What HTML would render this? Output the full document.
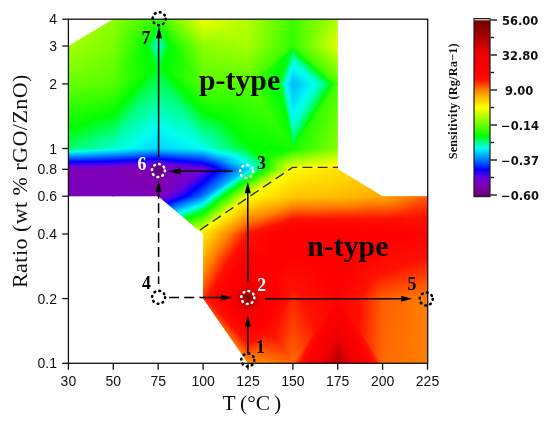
<!DOCTYPE html>
<html lang="en">
<head>
<meta charset="utf-8">
<title>Sensitivity contour map</title>
<style>
html,body{margin:0;padding:0;background:#fff;}
body{width:550px;height:423px;overflow:hidden;}
svg{display:block;}
.tick{font-family:"Liberation Sans",sans-serif;font-size:14px;fill:#111;}
.ser{font-family:"Liberation Serif","Noto Serif CJK SC",serif;fill:#111;}
.big{font-family:"Liberation Serif",serif;font-weight:bold;font-size:29.8px;fill:#0a0a0a;}
.num{font-family:"Liberation Serif",serif;font-weight:bold;font-size:17.8px;}
.cbl{font-family:"DejaVu Sans","Liberation Sans",sans-serif;font-weight:bold;font-size:11.5px;fill:#111;}
.cbt{font-family:"Liberation Serif",serif;font-weight:bold;font-size:12.3px;fill:#111;}
</style>
</head>
<body>
<svg width="550" height="423" viewBox="0 0 550 423">
<defs>
<clipPath id="clip"><polygon points="68.4,46.0 113.3,19.2 337.7,19.2 337.7,169.3 382.6,196.2 427.5,196.2 427.5,363.3 248.0,363.3 203.1,298.6 203.1,234.0 158.2,196.2 68.4,196.2"/></clipPath>
<radialGradient id="spot2"><stop offset="0" stop-color="#780000" stop-opacity="1"/><stop offset="0.35" stop-color="#a00000" stop-opacity="0.85"/><stop offset="1" stop-color="#f00000" stop-opacity="0"/></radialGradient>
<radialGradient id="spot6"><stop offset="0" stop-color="#5c0070" stop-opacity="1"/><stop offset="0.5" stop-color="#680088" stop-opacity="0.7"/><stop offset="1" stop-color="#8000b0" stop-opacity="0"/></radialGradient>
<linearGradient id="cbg" x1="0" y1="0" x2="0" y2="1"><stop offset="0.0079" stop-color="#700000"/><stop offset="0.1062" stop-color="#b00000"/><stop offset="0.2045" stop-color="#f00000"/><stop offset="0.3028" stop-color="#ff0000"/><stop offset="0.3449" stop-color="#ff1000"/><stop offset="0.4011" stop-color="#ff8000"/><stop offset="0.4461" stop-color="#ffc000"/><stop offset="0.4994" stop-color="#ffff00"/><stop offset="0.5978" stop-color="#68ff00"/><stop offset="0.6596" stop-color="#00ff00"/><stop offset="0.6933" stop-color="#00ff80"/><stop offset="0.7270" stop-color="#00fff0"/><stop offset="0.7382" stop-color="#00e8f8"/><stop offset="0.7944" stop-color="#0078ff"/><stop offset="0.8478" stop-color="#0000ff"/><stop offset="0.8927" stop-color="#6800e0"/><stop offset="0.9404" stop-color="#8000b0"/><stop offset="0.9910" stop-color="#6a0078"/></linearGradient>
<linearGradient id="g0" gradientUnits="userSpaceOnUse" x1="307.6" y1="67.4" x2="281.1" y2="97.0"><stop offset="0.000" stop-color="#00f9f2"/><stop offset="0.167" stop-color="#00e8f8"/><stop offset="1.000" stop-color="#0094fd"/></linearGradient>
<linearGradient id="g1" gradientUnits="userSpaceOnUse" x1="307.1" y1="62.0" x2="287.4" y2="84.0"><stop offset="0.000" stop-color="#00ff80"/><stop offset="0.414" stop-color="#00fff0"/><stop offset="0.552" stop-color="#00e8f8"/><stop offset="1.000" stop-color="#009ffd"/></linearGradient>
<linearGradient id="g2" gradientUnits="userSpaceOnUse" x1="307.1" y1="62.0" x2="287.4" y2="84.0"><stop offset="0.000" stop-color="#00ff80"/><stop offset="0.414" stop-color="#00fff0"/><stop offset="0.552" stop-color="#00e8f8"/><stop offset="1.000" stop-color="#009ffd"/></linearGradient>
<linearGradient id="g3" gradientUnits="userSpaceOnUse" x1="299.7" y1="52.5" x2="290.6" y2="62.7"><stop offset="0.000" stop-color="#13ff00"/><stop offset="0.125" stop-color="#00ff00"/><stop offset="0.500" stop-color="#00ff80"/><stop offset="0.875" stop-color="#00fff0"/><stop offset="1.000" stop-color="#00e8f8"/></linearGradient>
<linearGradient id="g4" gradientUnits="userSpaceOnUse" x1="299.7" y1="52.5" x2="290.6" y2="62.7"><stop offset="0.000" stop-color="#13ff00"/><stop offset="0.125" stop-color="#00ff00"/><stop offset="0.500" stop-color="#00ff80"/><stop offset="0.875" stop-color="#00fff0"/><stop offset="1.000" stop-color="#00e8f8"/></linearGradient>
<linearGradient id="g5" gradientUnits="userSpaceOnUse" x1="296.7" y1="46.7" x2="291.5" y2="52.5"><stop offset="0.000" stop-color="#55ff00"/><stop offset="0.600" stop-color="#00ff00"/><stop offset="1.000" stop-color="#00ff80"/></linearGradient>
<linearGradient id="g6" gradientUnits="userSpaceOnUse" x1="295.4" y1="43.2" x2="288.9" y2="50.4"><stop offset="0.000" stop-color="#71ff00"/><stop offset="0.056" stop-color="#68ff00"/><stop offset="0.667" stop-color="#00ff00"/><stop offset="1.000" stop-color="#00ff80"/></linearGradient>
<linearGradient id="g7" gradientUnits="userSpaceOnUse" x1="319.5" y1="19.1" x2="288.4" y2="50.5"><stop offset="0.000" stop-color="#fffc00"/><stop offset="0.018" stop-color="#ffff00"/><stop offset="0.643" stop-color="#68ff00"/><stop offset="1.000" stop-color="#09ff00"/></linearGradient>
<linearGradient id="g8" gradientUnits="userSpaceOnUse" x1="316.9" y1="98.6" x2="273.6" y2="72.1"><stop offset="0.000" stop-color="#00f9f2"/><stop offset="0.167" stop-color="#00e8f8"/><stop offset="1.000" stop-color="#0094fd"/></linearGradient>
<linearGradient id="g9" gradientUnits="userSpaceOnUse" x1="322.8" y1="98.2" x2="290.6" y2="78.4"><stop offset="0.000" stop-color="#00ff80"/><stop offset="0.414" stop-color="#00fff0"/><stop offset="0.552" stop-color="#00e8f8"/><stop offset="1.000" stop-color="#009ffd"/></linearGradient>
<linearGradient id="g10" gradientUnits="userSpaceOnUse" x1="322.8" y1="98.2" x2="290.6" y2="78.4"><stop offset="0.000" stop-color="#00ff80"/><stop offset="0.414" stop-color="#00fff0"/><stop offset="0.552" stop-color="#00e8f8"/><stop offset="1.000" stop-color="#009ffd"/></linearGradient>
<linearGradient id="g11" gradientUnits="userSpaceOnUse" x1="330.6" y1="90.7" x2="315.6" y2="81.6"><stop offset="0.000" stop-color="#13ff00"/><stop offset="0.125" stop-color="#00ff00"/><stop offset="0.500" stop-color="#00ff80"/><stop offset="0.875" stop-color="#00fff0"/><stop offset="1.000" stop-color="#00e8f8"/></linearGradient>
<linearGradient id="g12" gradientUnits="userSpaceOnUse" x1="330.6" y1="90.7" x2="315.6" y2="81.6"><stop offset="0.000" stop-color="#13ff00"/><stop offset="0.125" stop-color="#00ff00"/><stop offset="0.500" stop-color="#00ff80"/><stop offset="0.875" stop-color="#00fff0"/><stop offset="1.000" stop-color="#00e8f8"/></linearGradient>
<linearGradient id="g13" gradientUnits="userSpaceOnUse" x1="337.9" y1="88.9" x2="327.3" y2="82.4"><stop offset="0.000" stop-color="#71ff00"/><stop offset="0.056" stop-color="#68ff00"/><stop offset="0.667" stop-color="#00ff00"/><stop offset="1.000" stop-color="#00ff80"/></linearGradient>
<linearGradient id="g14" gradientUnits="userSpaceOnUse" x1="339.8" y1="85.1" x2="330.6" y2="79.4"><stop offset="0.000" stop-color="#71ff00"/><stop offset="0.056" stop-color="#68ff00"/><stop offset="0.667" stop-color="#00ff00"/><stop offset="1.000" stop-color="#00ff80"/></linearGradient>
<linearGradient id="g15" gradientUnits="userSpaceOnUse" x1="371.1" y1="95.4" x2="304.4" y2="72.3"><stop offset="0.000" stop-color="#a4ff00"/><stop offset="0.350" stop-color="#68ff00"/><stop offset="0.900" stop-color="#00ff00"/><stop offset="1.000" stop-color="#00ff2b"/></linearGradient>
<linearGradient id="g16" gradientUnits="userSpaceOnUse" x1="282.4" y1="86.0" x2="301.2" y2="82.2"><stop offset="0.000" stop-color="#00f9f2"/><stop offset="0.167" stop-color="#00e8f8"/><stop offset="1.000" stop-color="#0094fd"/></linearGradient>
<linearGradient id="g17" gradientUnits="userSpaceOnUse" x1="282.7" y1="96.7" x2="296.7" y2="93.9"><stop offset="0.000" stop-color="#00ff80"/><stop offset="0.414" stop-color="#00fff0"/><stop offset="0.552" stop-color="#00e8f8"/><stop offset="1.000" stop-color="#009ffd"/></linearGradient>
<linearGradient id="g18" gradientUnits="userSpaceOnUse" x1="282.7" y1="96.7" x2="296.7" y2="93.9"><stop offset="0.000" stop-color="#00ff80"/><stop offset="0.414" stop-color="#00fff0"/><stop offset="0.552" stop-color="#00e8f8"/><stop offset="1.000" stop-color="#009ffd"/></linearGradient>
<linearGradient id="g19" gradientUnits="userSpaceOnUse" x1="288.0" y1="128.1" x2="294.5" y2="126.8"><stop offset="0.000" stop-color="#13ff00"/><stop offset="0.125" stop-color="#00ff00"/><stop offset="0.500" stop-color="#00ff80"/><stop offset="0.875" stop-color="#00fff0"/><stop offset="1.000" stop-color="#00e8f8"/></linearGradient>
<linearGradient id="g20" gradientUnits="userSpaceOnUse" x1="288.0" y1="128.1" x2="294.5" y2="126.8"><stop offset="0.000" stop-color="#13ff00"/><stop offset="0.125" stop-color="#00ff00"/><stop offset="0.500" stop-color="#00ff80"/><stop offset="0.875" stop-color="#00fff0"/><stop offset="1.000" stop-color="#00e8f8"/></linearGradient>
<linearGradient id="g21" gradientUnits="userSpaceOnUse" x1="291.1" y1="144.3" x2="293.7" y2="143.8"><stop offset="0.000" stop-color="#39ff00"/><stop offset="0.500" stop-color="#00ff00"/><stop offset="1.000" stop-color="#00ff80"/></linearGradient>
<linearGradient id="g22" gradientUnits="userSpaceOnUse" x1="264.1" y1="159.2" x2="313.8" y2="140.7"><stop offset="0.000" stop-color="#79ff00"/><stop offset="0.105" stop-color="#68ff00"/><stop offset="0.684" stop-color="#00ff00"/><stop offset="1.000" stop-color="#00ff80"/></linearGradient>
<linearGradient id="g23" gradientUnits="userSpaceOnUse" x1="318.7" y1="88.6" x2="276.4" y2="186.7"><stop offset="0.000" stop-color="#79ff00"/><stop offset="0.111" stop-color="#68ff00"/><stop offset="0.722" stop-color="#00ff00"/><stop offset="1.000" stop-color="#00ff6b"/></linearGradient>
<linearGradient id="g24" gradientUnits="userSpaceOnUse" x1="283.2" y1="80.3" x2="300.5" y2="86.7"><stop offset="0.000" stop-color="#00f9f2"/><stop offset="0.167" stop-color="#00e8f8"/><stop offset="1.000" stop-color="#0094fd"/></linearGradient>
<linearGradient id="g25" gradientUnits="userSpaceOnUse" x1="281.4" y1="80.4" x2="294.2" y2="85.2"><stop offset="0.000" stop-color="#00ff80"/><stop offset="0.414" stop-color="#00fff0"/><stop offset="0.552" stop-color="#00e8f8"/><stop offset="1.000" stop-color="#009ffd"/></linearGradient>
<linearGradient id="g26" gradientUnits="userSpaceOnUse" x1="281.4" y1="80.4" x2="294.2" y2="85.2"><stop offset="0.000" stop-color="#00ff80"/><stop offset="0.414" stop-color="#00fff0"/><stop offset="0.552" stop-color="#00e8f8"/><stop offset="1.000" stop-color="#009ffd"/></linearGradient>
<linearGradient id="g27" gradientUnits="userSpaceOnUse" x1="279.6" y1="82.2" x2="285.6" y2="84.4"><stop offset="0.000" stop-color="#13ff00"/><stop offset="0.125" stop-color="#00ff00"/><stop offset="0.500" stop-color="#00ff80"/><stop offset="0.875" stop-color="#00fff0"/><stop offset="1.000" stop-color="#00e8f8"/></linearGradient>
<linearGradient id="g28" gradientUnits="userSpaceOnUse" x1="279.6" y1="82.2" x2="285.6" y2="84.4"><stop offset="0.000" stop-color="#13ff00"/><stop offset="0.125" stop-color="#00ff00"/><stop offset="0.500" stop-color="#00ff80"/><stop offset="0.875" stop-color="#00fff0"/><stop offset="1.000" stop-color="#00e8f8"/></linearGradient>
<linearGradient id="g29" gradientUnits="userSpaceOnUse" x1="241.4" y1="69.4" x2="291.2" y2="87.7"><stop offset="0.000" stop-color="#79ff00"/><stop offset="0.105" stop-color="#68ff00"/><stop offset="0.684" stop-color="#00ff00"/><stop offset="1.000" stop-color="#00ff80"/></linearGradient>
<linearGradient id="g30" gradientUnits="userSpaceOnUse" x1="246.6" y1="82.3" x2="253.2" y2="89.6"><stop offset="0.000" stop-color="#79ff00"/><stop offset="0.105" stop-color="#68ff00"/><stop offset="0.684" stop-color="#00ff00"/><stop offset="1.000" stop-color="#00ff80"/></linearGradient>
<linearGradient id="g31" gradientUnits="userSpaceOnUse" x1="221.2" y1="61.8" x2="264.5" y2="97.4"><stop offset="0.000" stop-color="#c7ff00"/><stop offset="0.524" stop-color="#68ff00"/><stop offset="1.000" stop-color="#09ff00"/></linearGradient>
<linearGradient id="g32" gradientUnits="userSpaceOnUse" x1="80.7" y1="103.9" x2="139.4" y2="184.2"><stop offset="0.000" stop-color="#18ff00"/><stop offset="0.111" stop-color="#00ff00"/><stop offset="0.378" stop-color="#00ff80"/><stop offset="0.644" stop-color="#00fff0"/><stop offset="0.733" stop-color="#00e8f8"/><stop offset="1.000" stop-color="#00a5fc"/></linearGradient>
<linearGradient id="g33" gradientUnits="userSpaceOnUse" x1="198.1" y1="66.7" x2="149.5" y2="166.2"><stop offset="0.000" stop-color="#18ff00"/><stop offset="0.111" stop-color="#00ff00"/><stop offset="0.378" stop-color="#00ff80"/><stop offset="0.644" stop-color="#00fff0"/><stop offset="0.733" stop-color="#00e8f8"/><stop offset="1.000" stop-color="#00a5fc"/></linearGradient>
<linearGradient id="g34" gradientUnits="userSpaceOnUse" x1="74.4" y1="114.0" x2="120.0" y2="154.5"><stop offset="0.000" stop-color="#79ff00"/><stop offset="0.074" stop-color="#68ff00"/><stop offset="0.481" stop-color="#00ff00"/><stop offset="0.704" stop-color="#00ff80"/><stop offset="0.926" stop-color="#00fff0"/><stop offset="1.000" stop-color="#00e8f8"/></linearGradient>
<linearGradient id="g35" gradientUnits="userSpaceOnUse" x1="241.5" y1="111.9" x2="196.9" y2="154.4"><stop offset="0.000" stop-color="#79ff00"/><stop offset="0.069" stop-color="#68ff00"/><stop offset="0.448" stop-color="#00ff00"/><stop offset="0.655" stop-color="#00ff80"/><stop offset="0.862" stop-color="#00fff0"/><stop offset="0.931" stop-color="#00e8f8"/><stop offset="1.000" stop-color="#00d2f9"/></linearGradient>
<linearGradient id="g36" gradientUnits="userSpaceOnUse" x1="95.8" y1="87.5" x2="176.8" y2="70.6"><stop offset="0.000" stop-color="#79ff00"/><stop offset="0.108" stop-color="#68ff00"/><stop offset="0.703" stop-color="#00ff00"/><stop offset="1.000" stop-color="#00ff75"/></linearGradient>
<linearGradient id="g37" gradientUnits="userSpaceOnUse" x1="94.2" y1="78.7" x2="144.2" y2="92.2"><stop offset="0.000" stop-color="#9cff00"/><stop offset="0.286" stop-color="#68ff00"/><stop offset="0.810" stop-color="#00ff00"/><stop offset="1.000" stop-color="#00ff55"/></linearGradient>
<linearGradient id="g38" gradientUnits="userSpaceOnUse" x1="153.3" y1="71.2" x2="170.2" y2="63.9"><stop offset="0.000" stop-color="#26ff00"/><stop offset="0.211" stop-color="#00ff00"/><stop offset="0.526" stop-color="#00ff80"/><stop offset="0.842" stop-color="#00fff0"/><stop offset="0.947" stop-color="#00e8f8"/><stop offset="1.000" stop-color="#00ddf9"/></linearGradient>
<linearGradient id="g39" gradientUnits="userSpaceOnUse" x1="163.1" y1="71.2" x2="146.2" y2="63.9"><stop offset="0.000" stop-color="#26ff00"/><stop offset="0.211" stop-color="#00ff00"/><stop offset="0.526" stop-color="#00ff80"/><stop offset="0.842" stop-color="#00fff0"/><stop offset="0.947" stop-color="#00e8f8"/><stop offset="1.000" stop-color="#00ddf9"/></linearGradient>
<linearGradient id="g40" gradientUnits="userSpaceOnUse" x1="220.6" y1="87.5" x2="139.6" y2="70.6"><stop offset="0.000" stop-color="#79ff00"/><stop offset="0.108" stop-color="#68ff00"/><stop offset="0.703" stop-color="#00ff00"/><stop offset="1.000" stop-color="#00ff75"/></linearGradient>
<linearGradient id="g41" gradientUnits="userSpaceOnUse" x1="222.8" y1="76.9" x2="177.4" y2="92.9"><stop offset="0.000" stop-color="#adff00"/><stop offset="0.348" stop-color="#68ff00"/><stop offset="0.826" stop-color="#00ff00"/><stop offset="1.000" stop-color="#00ff55"/></linearGradient>
<linearGradient id="g42" gradientUnits="userSpaceOnUse" x1="145.4" y1="39.7" x2="161.6" y2="47.7"><stop offset="0.000" stop-color="#26ff00"/><stop offset="0.211" stop-color="#00ff00"/><stop offset="0.526" stop-color="#00ff80"/><stop offset="0.842" stop-color="#00fff0"/><stop offset="0.947" stop-color="#00e8f8"/><stop offset="1.000" stop-color="#00ddf9"/></linearGradient>
<linearGradient id="g43" gradientUnits="userSpaceOnUse" x1="143.2" y1="44.3" x2="148.3" y2="47.0"><stop offset="0.000" stop-color="#55ff00"/><stop offset="0.643" stop-color="#00ff00"/><stop offset="1.000" stop-color="#00ff6b"/></linearGradient>
<linearGradient id="g44" gradientUnits="userSpaceOnUse" x1="112.9" y1="5.9" x2="153.2" y2="54.1"><stop offset="0.000" stop-color="#b6ff00"/><stop offset="0.375" stop-color="#68ff00"/><stop offset="0.833" stop-color="#00ff00"/><stop offset="1.000" stop-color="#00ff55"/></linearGradient>
<linearGradient id="g45" gradientUnits="userSpaceOnUse" x1="99.3" y1="32.5" x2="156.0" y2="48.7"><stop offset="0.000" stop-color="#b6ff00"/><stop offset="0.375" stop-color="#68ff00"/><stop offset="0.833" stop-color="#00ff00"/><stop offset="1.000" stop-color="#00ff55"/></linearGradient>
<linearGradient id="g46" gradientUnits="userSpaceOnUse" x1="171.0" y1="39.7" x2="154.8" y2="47.7"><stop offset="0.000" stop-color="#26ff00"/><stop offset="0.211" stop-color="#00ff00"/><stop offset="0.526" stop-color="#00ff80"/><stop offset="0.842" stop-color="#00fff0"/><stop offset="0.947" stop-color="#00e8f8"/><stop offset="1.000" stop-color="#00ddf9"/></linearGradient>
<linearGradient id="g47" gradientUnits="userSpaceOnUse" x1="173.2" y1="44.3" x2="168.0" y2="47.0"><stop offset="0.000" stop-color="#55ff00"/><stop offset="0.643" stop-color="#00ff00"/><stop offset="1.000" stop-color="#00ff6b"/></linearGradient>
<linearGradient id="g48" gradientUnits="userSpaceOnUse" x1="207.9" y1="15.1" x2="164.9" y2="50.0"><stop offset="0.000" stop-color="#ffee00"/><stop offset="0.071" stop-color="#ffff00"/><stop offset="0.571" stop-color="#68ff00"/><stop offset="0.886" stop-color="#00ff00"/><stop offset="1.000" stop-color="#00ff55"/></linearGradient>
<linearGradient id="g49" gradientUnits="userSpaceOnUse" x1="204.5" y1="11.7" x2="165.4" y2="50.5"><stop offset="0.000" stop-color="#ffee00"/><stop offset="0.071" stop-color="#ffff00"/><stop offset="0.571" stop-color="#68ff00"/><stop offset="0.886" stop-color="#00ff00"/><stop offset="1.000" stop-color="#00ff55"/></linearGradient>
<linearGradient id="g50" gradientUnits="userSpaceOnUse" x1="283.3" y1="331.6" x2="244.7" y2="366.2"><stop offset="0.000" stop-color="#d60000"/><stop offset="0.146" stop-color="#f00000"/><stop offset="0.510" stop-color="#ff0000"/><stop offset="0.667" stop-color="#ff1000"/><stop offset="0.875" stop-color="#ff8000"/><stop offset="1.000" stop-color="#ffb000"/></linearGradient>
<linearGradient id="g51" gradientUnits="userSpaceOnUse" x1="259.6" y1="317.0" x2="245.3" y2="373.9"><stop offset="0.000" stop-color="#ff0400"/><stop offset="0.256" stop-color="#ff1000"/><stop offset="0.721" stop-color="#ff8000"/><stop offset="1.000" stop-color="#ffb000"/></linearGradient>
<linearGradient id="g52" gradientUnits="userSpaceOnUse" x1="250.6" y1="349.8" x2="305.4" y2="367.3"><stop offset="0.000" stop-color="#ff0400"/><stop offset="0.314" stop-color="#ff1000"/><stop offset="0.886" stop-color="#ff8000"/><stop offset="1.000" stop-color="#ff9000"/></linearGradient>
<linearGradient id="g53" gradientUnits="userSpaceOnUse" x1="253.2" y1="277.5" x2="297.5" y2="301.1"><stop offset="0.000" stop-color="#d60000"/><stop offset="0.184" stop-color="#f00000"/><stop offset="0.645" stop-color="#ff0000"/><stop offset="0.842" stop-color="#ff1000"/><stop offset="1.000" stop-color="#ff5300"/></linearGradient>
<linearGradient id="g54" gradientUnits="userSpaceOnUse" x1="245.5" y1="293.3" x2="275.3" y2="357.0"><stop offset="0.000" stop-color="#d60000"/><stop offset="0.146" stop-color="#f00000"/><stop offset="0.510" stop-color="#ff0000"/><stop offset="0.667" stop-color="#ff1000"/><stop offset="0.875" stop-color="#ff8000"/><stop offset="1.000" stop-color="#ffb000"/></linearGradient>
<linearGradient id="g55" gradientUnits="userSpaceOnUse" x1="332.1" y1="382.4" x2="289.9" y2="361.9"><stop offset="0.000" stop-color="#a30000"/><stop offset="0.060" stop-color="#b00000"/><stop offset="0.362" stop-color="#f00000"/><stop offset="0.664" stop-color="#ff0000"/><stop offset="0.793" stop-color="#ff1000"/><stop offset="0.966" stop-color="#ff8000"/><stop offset="1.000" stop-color="#ff9000"/></linearGradient>
<linearGradient id="g56" gradientUnits="userSpaceOnUse" x1="370.9" y1="327.2" x2="276.4" y2="370.9"><stop offset="0.000" stop-color="#fc0000"/><stop offset="0.152" stop-color="#ff0000"/><stop offset="0.478" stop-color="#ff1000"/><stop offset="0.913" stop-color="#ff8000"/><stop offset="1.000" stop-color="#ff9000"/></linearGradient>
<linearGradient id="g57" gradientUnits="userSpaceOnUse" x1="334.8" y1="364.7" x2="377.0" y2="344.2"><stop offset="0.000" stop-color="#a30000"/><stop offset="0.060" stop-color="#b00000"/><stop offset="0.362" stop-color="#f00000"/><stop offset="0.664" stop-color="#ff0000"/><stop offset="0.793" stop-color="#ff1000"/><stop offset="0.966" stop-color="#ff8000"/><stop offset="1.000" stop-color="#ff9000"/></linearGradient>
<linearGradient id="g58" gradientUnits="userSpaceOnUse" x1="321.9" y1="360.3" x2="395.4" y2="363.9"><stop offset="0.000" stop-color="#fc0000"/><stop offset="0.152" stop-color="#ff0000"/><stop offset="0.478" stop-color="#ff1000"/><stop offset="0.913" stop-color="#ff8000"/><stop offset="1.000" stop-color="#ff9000"/></linearGradient>
<linearGradient id="g59" gradientUnits="userSpaceOnUse" x1="295.5" y1="348.2" x2="513.4" y2="386.0"><stop offset="0.000" stop-color="#ff3d00"/><stop offset="0.600" stop-color="#ff8000"/><stop offset="1.000" stop-color="#ffa000"/></linearGradient>
<linearGradient id="g60" gradientUnits="userSpaceOnUse" x1="333.3" y1="363.3" x2="499.3" y2="363.3"><stop offset="0.000" stop-color="#ff4500"/><stop offset="0.568" stop-color="#ff8000"/><stop offset="1.000" stop-color="#ffa000"/></linearGradient>
<linearGradient id="g61" gradientUnits="userSpaceOnUse" x1="324.2" y1="286.7" x2="486.6" y2="305.5"><stop offset="0.000" stop-color="#ff3200"/><stop offset="0.636" stop-color="#ff8000"/><stop offset="1.000" stop-color="#ffa000"/></linearGradient>
<linearGradient id="g62" gradientUnits="userSpaceOnUse" x1="315.9" y1="280.1" x2="478.5" y2="325.3"><stop offset="0.000" stop-color="#ff3200"/><stop offset="0.718" stop-color="#ff8000"/><stop offset="1.000" stop-color="#ff9600"/></linearGradient>
<linearGradient id="g63" gradientUnits="userSpaceOnUse" x1="242.0" y1="320.0" x2="198.6" y2="296.2"><stop offset="0.000" stop-color="#d60000"/><stop offset="0.179" stop-color="#f00000"/><stop offset="0.628" stop-color="#ff0000"/><stop offset="0.821" stop-color="#ff1000"/><stop offset="1.000" stop-color="#ff5e00"/></linearGradient>
<linearGradient id="g64" gradientUnits="userSpaceOnUse" x1="252.3" y1="301.7" x2="213.1" y2="274.0"><stop offset="0.000" stop-color="#d60000"/><stop offset="0.194" stop-color="#f00000"/><stop offset="0.681" stop-color="#ff0000"/><stop offset="0.889" stop-color="#ff1000"/><stop offset="1.000" stop-color="#ff3d00"/></linearGradient>
<linearGradient id="g65" gradientUnits="userSpaceOnUse" x1="253.3" y1="237.7" x2="213.1" y2="209.3"><stop offset="0.000" stop-color="#ff0700"/><stop offset="0.132" stop-color="#ff1000"/><stop offset="0.442" stop-color="#ff8000"/><stop offset="0.690" stop-color="#ffc000"/><stop offset="0.984" stop-color="#ffff00"/><stop offset="1.000" stop-color="#fbff00"/></linearGradient>
<linearGradient id="g66" gradientUnits="userSpaceOnUse" x1="239.1" y1="253.1" x2="198.0" y2="231.3"><stop offset="0.000" stop-color="#ff0700"/><stop offset="0.132" stop-color="#ff1000"/><stop offset="0.442" stop-color="#ff8000"/><stop offset="0.690" stop-color="#ffc000"/><stop offset="0.984" stop-color="#ffff00"/><stop offset="1.000" stop-color="#fbff00"/></linearGradient>
<linearGradient id="g67" gradientUnits="userSpaceOnUse" x1="242.1" y1="299.6" x2="297.5" y2="290.6"><stop offset="0.000" stop-color="#d60000"/><stop offset="0.184" stop-color="#f00000"/><stop offset="0.645" stop-color="#ff0000"/><stop offset="0.842" stop-color="#ff1000"/><stop offset="1.000" stop-color="#ff5300"/></linearGradient>
<linearGradient id="g68" gradientUnits="userSpaceOnUse" x1="251.4" y1="253.9" x2="302.1" y2="308.6"><stop offset="0.000" stop-color="#f80000"/><stop offset="0.386" stop-color="#ff0000"/><stop offset="0.727" stop-color="#ff1000"/><stop offset="1.000" stop-color="#ff5300"/></linearGradient>
<linearGradient id="g69" gradientUnits="userSpaceOnUse" x1="305.7" y1="239.2" x2="241.4" y2="213.2"><stop offset="0.000" stop-color="#f80000"/><stop offset="0.425" stop-color="#ff0000"/><stop offset="0.800" stop-color="#ff1000"/><stop offset="1.000" stop-color="#ff3d00"/></linearGradient>
<linearGradient id="g70" gradientUnits="userSpaceOnUse" x1="219.8" y1="294.8" x2="251.5" y2="226.4"><stop offset="0.000" stop-color="#d60000"/><stop offset="0.194" stop-color="#f00000"/><stop offset="0.681" stop-color="#ff0000"/><stop offset="0.889" stop-color="#ff1000"/><stop offset="1.000" stop-color="#ff3d00"/></linearGradient>
<linearGradient id="g71" gradientUnits="userSpaceOnUse" x1="335.8" y1="267.1" x2="279.9" y2="308.2"><stop offset="0.000" stop-color="#fc0000"/><stop offset="0.217" stop-color="#ff0000"/><stop offset="0.652" stop-color="#ff1000"/><stop offset="1.000" stop-color="#ff5300"/></linearGradient>
<linearGradient id="g72" gradientUnits="userSpaceOnUse" x1="394.0" y1="255.2" x2="312.7" y2="317.9"><stop offset="0.000" stop-color="#f80000"/><stop offset="0.654" stop-color="#ff0000"/><stop offset="1.000" stop-color="#ff0a00"/></linearGradient>
<linearGradient id="g73" gradientUnits="userSpaceOnUse" x1="337.7" y1="206.8" x2="337.7" y2="293.5"><stop offset="0.000" stop-color="#f80000"/><stop offset="0.667" stop-color="#ff0000"/><stop offset="1.000" stop-color="#ff0900"/></linearGradient>
<linearGradient id="g74" gradientUnits="userSpaceOnUse" x1="299.9" y1="218.8" x2="261.2" y2="302.4"><stop offset="0.000" stop-color="#f80000"/><stop offset="0.386" stop-color="#ff0000"/><stop offset="0.727" stop-color="#ff1000"/><stop offset="1.000" stop-color="#ff5300"/></linearGradient>
<linearGradient id="g75" gradientUnits="userSpaceOnUse" x1="327.9" y1="293.3" x2="382.2" y2="322.9"><stop offset="0.000" stop-color="#fc0000"/><stop offset="0.159" stop-color="#ff0000"/><stop offset="0.500" stop-color="#ff1000"/><stop offset="0.955" stop-color="#ff8000"/><stop offset="1.000" stop-color="#ff8800"/></linearGradient>
<linearGradient id="g76" gradientUnits="userSpaceOnUse" x1="345.5" y1="243.9" x2="389.7" y2="309.1"><stop offset="0.000" stop-color="#f90000"/><stop offset="0.260" stop-color="#ff0000"/><stop offset="0.560" stop-color="#ff1000"/><stop offset="0.960" stop-color="#ff8000"/><stop offset="1.000" stop-color="#ff8800"/></linearGradient>
<linearGradient id="g77" gradientUnits="userSpaceOnUse" x1="374.0" y1="201.0" x2="394.9" y2="280.7"><stop offset="0.000" stop-color="#f80000"/><stop offset="0.586" stop-color="#ff0000"/><stop offset="1.000" stop-color="#ff0d00"/></linearGradient>
<linearGradient id="g78" gradientUnits="userSpaceOnUse" x1="318.9" y1="225.8" x2="387.3" y2="255.5"><stop offset="0.000" stop-color="#f80000"/><stop offset="0.586" stop-color="#ff0000"/><stop offset="1.000" stop-color="#ff0d00"/></linearGradient>
<linearGradient id="g79" gradientUnits="userSpaceOnUse" x1="372.3" y1="259.2" x2="389.4" y2="324.3"><stop offset="0.000" stop-color="#ff0800"/><stop offset="0.211" stop-color="#ff1000"/><stop offset="0.775" stop-color="#ff8000"/><stop offset="1.000" stop-color="#ffa000"/></linearGradient>
<linearGradient id="g80" gradientUnits="userSpaceOnUse" x1="404.4" y1="225.1" x2="432.2" y2="313.3"><stop offset="0.000" stop-color="#fd0000"/><stop offset="0.104" stop-color="#ff0000"/><stop offset="0.417" stop-color="#ff1000"/><stop offset="0.833" stop-color="#ff8000"/><stop offset="1.000" stop-color="#ffa000"/></linearGradient>
<linearGradient id="g81" gradientUnits="userSpaceOnUse" x1="417.8" y1="206.0" x2="440.0" y2="269.8"><stop offset="0.000" stop-color="#f90000"/><stop offset="0.356" stop-color="#ff0000"/><stop offset="0.767" stop-color="#ff1000"/><stop offset="1.000" stop-color="#ff4000"/></linearGradient>
<linearGradient id="g82" gradientUnits="userSpaceOnUse" x1="378.5" y1="220.0" x2="404.4" y2="307.4"><stop offset="0.000" stop-color="#f90000"/><stop offset="0.260" stop-color="#ff0000"/><stop offset="0.560" stop-color="#ff1000"/><stop offset="0.960" stop-color="#ff8000"/><stop offset="1.000" stop-color="#ff8800"/></linearGradient>
<linearGradient id="g83" gradientUnits="userSpaceOnUse" x1="204.0" y1="236.4" x2="184.2" y2="183.7"><stop offset="0.000" stop-color="#ffcd00"/><stop offset="0.084" stop-color="#ffff00"/><stop offset="0.281" stop-color="#68ff00"/><stop offset="0.404" stop-color="#00ff00"/><stop offset="0.472" stop-color="#00ff80"/><stop offset="0.539" stop-color="#00fff0"/><stop offset="0.562" stop-color="#00e8f8"/><stop offset="0.674" stop-color="#0078ff"/><stop offset="0.781" stop-color="#0000ff"/><stop offset="0.871" stop-color="#6800e0"/><stop offset="0.966" stop-color="#8000b0"/><stop offset="1.000" stop-color="#79009d"/></linearGradient>
<linearGradient id="g84" gradientUnits="userSpaceOnUse" x1="221.0" y1="258.8" x2="197.9" y2="226.9"><stop offset="0.000" stop-color="#ff0700"/><stop offset="0.111" stop-color="#ff1000"/><stop offset="0.389" stop-color="#ff8000"/><stop offset="0.611" stop-color="#ffc000"/><stop offset="0.875" stop-color="#ffff00"/><stop offset="1.000" stop-color="#d8ff00"/></linearGradient>
<linearGradient id="g85" gradientUnits="userSpaceOnUse" x1="204.4" y1="235.7" x2="183.4" y2="208.8"><stop offset="0.000" stop-color="#ffcd00"/><stop offset="0.117" stop-color="#ffff00"/><stop offset="0.391" stop-color="#68ff00"/><stop offset="0.562" stop-color="#00ff00"/><stop offset="0.656" stop-color="#00ff80"/><stop offset="0.750" stop-color="#00fff0"/><stop offset="0.781" stop-color="#00e8f8"/><stop offset="0.938" stop-color="#0078ff"/><stop offset="1.000" stop-color="#0045ff"/></linearGradient>
<linearGradient id="g86" gradientUnits="userSpaceOnUse" x1="253.7" y1="251.6" x2="239.7" y2="208.6"><stop offset="0.000" stop-color="#f80000"/><stop offset="0.218" stop-color="#ff0000"/><stop offset="0.410" stop-color="#ff1000"/><stop offset="0.667" stop-color="#ff8000"/><stop offset="0.872" stop-color="#ffc000"/><stop offset="1.000" stop-color="#ffe100"/></linearGradient>
<linearGradient id="g87" gradientUnits="userSpaceOnUse" x1="249.3" y1="239.0" x2="237.1" y2="193.7"><stop offset="0.000" stop-color="#ff0700"/><stop offset="0.111" stop-color="#ff1000"/><stop offset="0.389" stop-color="#ff8000"/><stop offset="0.611" stop-color="#ffc000"/><stop offset="0.875" stop-color="#ffff00"/><stop offset="1.000" stop-color="#d8ff00"/></linearGradient>
<linearGradient id="g88" gradientUnits="userSpaceOnUse" x1="292.9" y1="238.9" x2="292.9" y2="210.1"><stop offset="0.000" stop-color="#f80000"/><stop offset="0.366" stop-color="#ff0000"/><stop offset="0.688" stop-color="#ff1000"/><stop offset="1.000" stop-color="#ff6100"/></linearGradient>
<linearGradient id="g89" gradientUnits="userSpaceOnUse" x1="337.8" y1="239.0" x2="337.1" y2="191.1"><stop offset="0.000" stop-color="#f80000"/><stop offset="0.224" stop-color="#ff0000"/><stop offset="0.421" stop-color="#ff1000"/><stop offset="0.684" stop-color="#ff8000"/><stop offset="0.895" stop-color="#ffc000"/><stop offset="1.000" stop-color="#ffdb00"/></linearGradient>
<linearGradient id="g90" gradientUnits="userSpaceOnUse" x1="338.4" y1="219.4" x2="337.6" y2="190.0"><stop offset="0.000" stop-color="#ff0e00"/><stop offset="0.032" stop-color="#ff1000"/><stop offset="0.453" stop-color="#ff8000"/><stop offset="0.789" stop-color="#ffc000"/><stop offset="1.000" stop-color="#ffe100"/></linearGradient>
<linearGradient id="g91" gradientUnits="userSpaceOnUse" x1="293.4" y1="238.9" x2="292.8" y2="191.3"><stop offset="0.000" stop-color="#f80000"/><stop offset="0.218" stop-color="#ff0000"/><stop offset="0.410" stop-color="#ff1000"/><stop offset="0.667" stop-color="#ff8000"/><stop offset="0.872" stop-color="#ffc000"/><stop offset="1.000" stop-color="#ffe100"/></linearGradient>
<linearGradient id="g92" gradientUnits="userSpaceOnUse" x1="337.4" y1="239.5" x2="339.3" y2="208.3"><stop offset="0.000" stop-color="#f80000"/><stop offset="0.374" stop-color="#ff0000"/><stop offset="0.703" stop-color="#ff1000"/><stop offset="1.000" stop-color="#ff5c00"/></linearGradient>
<linearGradient id="g93" gradientUnits="userSpaceOnUse" x1="382.7" y1="240.0" x2="381.9" y2="190.1"><stop offset="0.000" stop-color="#f90000"/><stop offset="0.197" stop-color="#ff0000"/><stop offset="0.424" stop-color="#ff1000"/><stop offset="0.727" stop-color="#ff8000"/><stop offset="0.970" stop-color="#ffc000"/><stop offset="1.000" stop-color="#ffc700"/></linearGradient>
<linearGradient id="g94" gradientUnits="userSpaceOnUse" x1="384.7" y1="218.3" x2="381.8" y2="186.6"><stop offset="0.000" stop-color="#ff0d00"/><stop offset="0.054" stop-color="#ff1000"/><stop offset="0.484" stop-color="#ff8000"/><stop offset="0.828" stop-color="#ffc000"/><stop offset="1.000" stop-color="#ffdb00"/></linearGradient>
<linearGradient id="g95" gradientUnits="userSpaceOnUse" x1="338.3" y1="239.0" x2="337.7" y2="191.1"><stop offset="0.000" stop-color="#f80000"/><stop offset="0.224" stop-color="#ff0000"/><stop offset="0.421" stop-color="#ff1000"/><stop offset="0.684" stop-color="#ff8000"/><stop offset="0.895" stop-color="#ffc000"/><stop offset="1.000" stop-color="#ffdb00"/></linearGradient>
<linearGradient id="g96" gradientUnits="userSpaceOnUse" x1="381.3" y1="241.7" x2="387.9" y2="204.1"><stop offset="0.000" stop-color="#f90000"/><stop offset="0.333" stop-color="#ff0000"/><stop offset="0.718" stop-color="#ff1000"/><stop offset="1.000" stop-color="#ff4e00"/></linearGradient>
<linearGradient id="g97" gradientUnits="userSpaceOnUse" x1="429.0" y1="245.4" x2="421.2" y2="185.3"><stop offset="0.000" stop-color="#fd0000"/><stop offset="0.119" stop-color="#ff0000"/><stop offset="0.476" stop-color="#ff1000"/><stop offset="0.952" stop-color="#ff8000"/><stop offset="1.000" stop-color="#ff8800"/></linearGradient>
<linearGradient id="g98" gradientUnits="userSpaceOnUse" x1="433.5" y1="213.0" x2="420.0" y2="174.9"><stop offset="0.000" stop-color="#ff0b00"/><stop offset="0.116" stop-color="#ff1000"/><stop offset="0.581" stop-color="#ff8000"/><stop offset="0.953" stop-color="#ffc000"/><stop offset="1.000" stop-color="#ffc700"/></linearGradient>
<linearGradient id="g99" gradientUnits="userSpaceOnUse" x1="385.6" y1="239.8" x2="382.2" y2="190.1"><stop offset="0.000" stop-color="#f90000"/><stop offset="0.197" stop-color="#ff0000"/><stop offset="0.424" stop-color="#ff1000"/><stop offset="0.727" stop-color="#ff8000"/><stop offset="0.970" stop-color="#ffc000"/><stop offset="1.000" stop-color="#ffc700"/></linearGradient>
<linearGradient id="g100" gradientUnits="userSpaceOnUse" x1="68.4" y1="303.5" x2="68.4" y2="75.4"><stop offset="0.000" stop-color="#6f00d2"/><stop offset="0.706" stop-color="#8000b0"/><stop offset="1.000" stop-color="#7a00a0"/></linearGradient>
<linearGradient id="g101" gradientUnits="userSpaceOnUse" x1="113.3" y1="303.5" x2="113.3" y2="62.0"><stop offset="0.000" stop-color="#6f00d2"/><stop offset="0.667" stop-color="#8000b0"/><stop offset="1.000" stop-color="#79009d"/></linearGradient>
<linearGradient id="g102" gradientUnits="userSpaceOnUse" x1="113.3" y1="290.1" x2="113.3" y2="62.0"><stop offset="0.000" stop-color="#7000cf"/><stop offset="0.647" stop-color="#8000b0"/><stop offset="1.000" stop-color="#79009d"/></linearGradient>
<linearGradient id="g103" gradientUnits="userSpaceOnUse" x1="68.4" y1="303.5" x2="68.4" y2="62.0"><stop offset="0.000" stop-color="#6f00d2"/><stop offset="0.667" stop-color="#8000b0"/><stop offset="1.000" stop-color="#79009d"/></linearGradient>
<linearGradient id="g104" gradientUnits="userSpaceOnUse" x1="88.7" y1="257.9" x2="145.6" y2="115.1"><stop offset="0.000" stop-color="#6f00d2"/><stop offset="0.649" stop-color="#8000b0"/><stop offset="1.000" stop-color="#78009c"/></linearGradient>
<linearGradient id="g105" gradientUnits="userSpaceOnUse" x1="138.1" y1="240.9" x2="188.2" y2="129.1"><stop offset="0.000" stop-color="#7200cc"/><stop offset="0.500" stop-color="#8000b0"/><stop offset="1.000" stop-color="#740091"/></linearGradient>
<linearGradient id="g106" gradientUnits="userSpaceOnUse" x1="105.9" y1="235.0" x2="193.1" y2="125.6"><stop offset="0.000" stop-color="#7200cc"/><stop offset="0.500" stop-color="#8000b0"/><stop offset="1.000" stop-color="#740091"/></linearGradient>
<linearGradient id="g107" gradientUnits="userSpaceOnUse" x1="46.6" y1="243.7" x2="170.0" y2="106.1"><stop offset="0.000" stop-color="#6f00d2"/><stop offset="0.649" stop-color="#8000b0"/><stop offset="1.000" stop-color="#78009c"/></linearGradient>
<linearGradient id="g108" gradientUnits="userSpaceOnUse" x1="178.1" y1="221.5" x2="155.4" y2="192.7"><stop offset="0.000" stop-color="#00a5fc"/><stop offset="0.121" stop-color="#0078ff"/><stop offset="0.409" stop-color="#0000ff"/><stop offset="0.652" stop-color="#6800e0"/><stop offset="0.909" stop-color="#8000b0"/><stop offset="1.000" stop-color="#79009d"/></linearGradient>
<linearGradient id="g109" gradientUnits="userSpaceOnUse" x1="205.9" y1="216.1" x2="129.5" y2="184.2"><stop offset="0.000" stop-color="#4800ea"/><stop offset="0.156" stop-color="#6800e0"/><stop offset="0.688" stop-color="#8000b0"/><stop offset="1.000" stop-color="#740091"/></linearGradient>
<linearGradient id="g110" gradientUnits="userSpaceOnUse" x1="219.2" y1="218.9" x2="201.9" y2="194.5"><stop offset="0.000" stop-color="#ffe800"/><stop offset="0.058" stop-color="#ffff00"/><stop offset="0.350" stop-color="#68ff00"/><stop offset="0.533" stop-color="#00ff00"/><stop offset="0.633" stop-color="#00ff80"/><stop offset="0.733" stop-color="#00fff0"/><stop offset="0.767" stop-color="#00e8f8"/><stop offset="0.933" stop-color="#0078ff"/><stop offset="1.000" stop-color="#0045ff"/></linearGradient>
<linearGradient id="g111" gradientUnits="userSpaceOnUse" x1="211.4" y1="206.0" x2="187.0" y2="177.3"><stop offset="0.000" stop-color="#00fff0"/><stop offset="0.057" stop-color="#00e8f8"/><stop offset="0.343" stop-color="#0078ff"/><stop offset="0.614" stop-color="#0000ff"/><stop offset="0.843" stop-color="#6800e0"/><stop offset="1.000" stop-color="#7800c1"/></linearGradient>
<linearGradient id="g112" gradientUnits="userSpaceOnUse" x1="268.2" y1="226.2" x2="241.7" y2="186.9"><stop offset="0.000" stop-color="#ffa800"/><stop offset="0.176" stop-color="#ffc000"/><stop offset="0.735" stop-color="#ffff00"/><stop offset="1.000" stop-color="#d8ff00"/></linearGradient>
<linearGradient id="g113" gradientUnits="userSpaceOnUse" x1="249.3" y1="198.4" x2="234.9" y2="174.9"><stop offset="0.000" stop-color="#ffe100"/><stop offset="0.085" stop-color="#ffff00"/><stop offset="0.415" stop-color="#68ff00"/><stop offset="0.623" stop-color="#00ff00"/><stop offset="0.736" stop-color="#00ff80"/><stop offset="0.849" stop-color="#00fff0"/><stop offset="0.887" stop-color="#00e8f8"/><stop offset="1.000" stop-color="#00a5fc"/></linearGradient>
<linearGradient id="g114" gradientUnits="userSpaceOnUse" x1="294.7" y1="216.6" x2="290.3" y2="168.5"><stop offset="0.000" stop-color="#ffa000"/><stop offset="0.340" stop-color="#ffc000"/><stop offset="1.000" stop-color="#fff300"/></linearGradient>
<linearGradient id="g115" gradientUnits="userSpaceOnUse" x1="343.6" y1="215.9" x2="324.5" y2="151.8"><stop offset="0.000" stop-color="#ffa000"/><stop offset="0.308" stop-color="#ffc000"/><stop offset="1.000" stop-color="#fffc00"/></linearGradient>
<linearGradient id="g116" gradientUnits="userSpaceOnUse" x1="344.8" y1="188.4" x2="327.0" y2="140.2"><stop offset="0.000" stop-color="#ffbe00"/><stop offset="0.019" stop-color="#ffc000"/><stop offset="0.736" stop-color="#ffff00"/><stop offset="1.000" stop-color="#e1ff00"/></linearGradient>
<linearGradient id="g117" gradientUnits="userSpaceOnUse" x1="300.1" y1="208.2" x2="290.4" y2="156.4"><stop offset="0.000" stop-color="#ffa800"/><stop offset="0.188" stop-color="#ffc000"/><stop offset="0.781" stop-color="#ffff00"/><stop offset="1.000" stop-color="#e1ff00"/></linearGradient>
<linearGradient id="g118" gradientUnits="userSpaceOnUse" x1="349.7" y1="229.5" x2="322.4" y2="153.4"><stop offset="0.000" stop-color="#ff8800"/><stop offset="0.438" stop-color="#ffc000"/><stop offset="1.000" stop-color="#fffc00"/></linearGradient>
<linearGradient id="g119" gradientUnits="userSpaceOnUse" x1="68.4" y1="156.9" x2="68.4" y2="171.3"><stop offset="0.000" stop-color="#0075ff"/><stop offset="0.322" stop-color="#0000ff"/><stop offset="0.600" stop-color="#6800e0"/><stop offset="0.896" stop-color="#8000b0"/><stop offset="1.000" stop-color="#79009d"/></linearGradient>
<linearGradient id="g120" gradientUnits="userSpaceOnUse" x1="112.6" y1="146.4" x2="113.4" y2="171.5"><stop offset="0.000" stop-color="#00ff80"/><stop offset="0.128" stop-color="#00fff0"/><stop offset="0.170" stop-color="#00e8f8"/><stop offset="0.383" stop-color="#0078ff"/><stop offset="0.585" stop-color="#0000ff"/><stop offset="0.755" stop-color="#6800e0"/><stop offset="0.936" stop-color="#8000b0"/><stop offset="1.000" stop-color="#79009d"/></linearGradient>
<linearGradient id="g121" gradientUnits="userSpaceOnUse" x1="113.0" y1="144.0" x2="113.9" y2="159.6"><stop offset="0.000" stop-color="#00ff15"/><stop offset="0.160" stop-color="#00ff80"/><stop offset="0.352" stop-color="#00fff0"/><stop offset="0.416" stop-color="#00e8f8"/><stop offset="0.736" stop-color="#0078ff"/><stop offset="1.000" stop-color="#0010ff"/></linearGradient>
<linearGradient id="g122" gradientUnits="userSpaceOnUse" x1="68.4" y1="146.6" x2="69.0" y2="171.2"><stop offset="0.000" stop-color="#00ff15"/><stop offset="0.096" stop-color="#00ff80"/><stop offset="0.212" stop-color="#00fff0"/><stop offset="0.250" stop-color="#00e8f8"/><stop offset="0.442" stop-color="#0078ff"/><stop offset="0.625" stop-color="#0000ff"/><stop offset="0.779" stop-color="#6800e0"/><stop offset="0.942" stop-color="#8000b0"/><stop offset="1.000" stop-color="#79009d"/></linearGradient>
<linearGradient id="g123" gradientUnits="userSpaceOnUse" x1="113.0" y1="157.2" x2="113.4" y2="172.7"><stop offset="0.000" stop-color="#004cff"/><stop offset="0.218" stop-color="#0000ff"/><stop offset="0.509" stop-color="#6800e0"/><stop offset="0.818" stop-color="#8000b0"/><stop offset="1.000" stop-color="#740091"/></linearGradient>
<linearGradient id="g124" gradientUnits="userSpaceOnUse" x1="157.0" y1="146.2" x2="158.3" y2="171.7"><stop offset="0.000" stop-color="#00fff0"/><stop offset="0.047" stop-color="#00e8f8"/><stop offset="0.279" stop-color="#0078ff"/><stop offset="0.500" stop-color="#0000ff"/><stop offset="0.686" stop-color="#6800e0"/><stop offset="0.884" stop-color="#8000b0"/><stop offset="1.000" stop-color="#740091"/></linearGradient>
<linearGradient id="g125" gradientUnits="userSpaceOnUse" x1="157.8" y1="142.9" x2="159.0" y2="159.4"><stop offset="0.000" stop-color="#00ff80"/><stop offset="0.203" stop-color="#00fff0"/><stop offset="0.271" stop-color="#00e8f8"/><stop offset="0.610" stop-color="#0078ff"/><stop offset="0.932" stop-color="#0000ff"/><stop offset="1.000" stop-color="#1a00f7"/></linearGradient>
<linearGradient id="g126" gradientUnits="userSpaceOnUse" x1="113.2" y1="146.4" x2="114.4" y2="171.4"><stop offset="0.000" stop-color="#00ff80"/><stop offset="0.128" stop-color="#00fff0"/><stop offset="0.170" stop-color="#00e8f8"/><stop offset="0.383" stop-color="#0078ff"/><stop offset="0.585" stop-color="#0000ff"/><stop offset="0.755" stop-color="#6800e0"/><stop offset="0.936" stop-color="#8000b0"/><stop offset="1.000" stop-color="#79009d"/></linearGradient>
<linearGradient id="g127" gradientUnits="userSpaceOnUse" x1="159.9" y1="154.1" x2="157.9" y2="171.8"><stop offset="0.000" stop-color="#0058ff"/><stop offset="0.246" stop-color="#0000ff"/><stop offset="0.526" stop-color="#6800e0"/><stop offset="0.825" stop-color="#8000b0"/><stop offset="1.000" stop-color="#740091"/></linearGradient>
<linearGradient id="g128" gradientUnits="userSpaceOnUse" x1="205.2" y1="146.0" x2="202.8" y2="172.0"><stop offset="0.000" stop-color="#00ffa5"/><stop offset="0.103" stop-color="#00fff0"/><stop offset="0.154" stop-color="#00e8f8"/><stop offset="0.410" stop-color="#0078ff"/><stop offset="0.654" stop-color="#0000ff"/><stop offset="0.859" stop-color="#6800e0"/><stop offset="1.000" stop-color="#7800c1"/></linearGradient>
<linearGradient id="g129" gradientUnits="userSpaceOnUse" x1="203.2" y1="146.0" x2="202.3" y2="162.7"><stop offset="0.000" stop-color="#00ffa5"/><stop offset="0.151" stop-color="#00fff0"/><stop offset="0.226" stop-color="#00e8f8"/><stop offset="0.604" stop-color="#0078ff"/><stop offset="0.962" stop-color="#0000ff"/><stop offset="1.000" stop-color="#0d00fb"/></linearGradient>
<linearGradient id="g130" gradientUnits="userSpaceOnUse" x1="158.4" y1="146.2" x2="156.3" y2="171.6"><stop offset="0.000" stop-color="#00fff0"/><stop offset="0.047" stop-color="#00e8f8"/><stop offset="0.279" stop-color="#0078ff"/><stop offset="0.500" stop-color="#0000ff"/><stop offset="0.686" stop-color="#6800e0"/><stop offset="0.884" stop-color="#8000b0"/><stop offset="1.000" stop-color="#740091"/></linearGradient>
<linearGradient id="g131" gradientUnits="userSpaceOnUse" x1="214.9" y1="147.7" x2="201.5" y2="172.1"><stop offset="0.000" stop-color="#00fff0"/><stop offset="0.057" stop-color="#00e8f8"/><stop offset="0.343" stop-color="#0078ff"/><stop offset="0.614" stop-color="#0000ff"/><stop offset="0.843" stop-color="#6800e0"/><stop offset="1.000" stop-color="#7800c1"/></linearGradient>
<linearGradient id="g132" gradientUnits="userSpaceOnUse" x1="259.5" y1="149.7" x2="244.3" y2="175.5"><stop offset="0.000" stop-color="#1cff00"/><stop offset="0.120" stop-color="#00ff00"/><stop offset="0.360" stop-color="#00ff80"/><stop offset="0.600" stop-color="#00fff0"/><stop offset="0.680" stop-color="#00e8f8"/><stop offset="1.000" stop-color="#008efe"/></linearGradient>
<linearGradient id="g133" gradientUnits="userSpaceOnUse" x1="248.7" y1="145.1" x2="243.9" y2="166.6"><stop offset="0.000" stop-color="#1cff00"/><stop offset="0.120" stop-color="#00ff00"/><stop offset="0.360" stop-color="#00ff80"/><stop offset="0.600" stop-color="#00fff0"/><stop offset="0.680" stop-color="#00e8f8"/><stop offset="1.000" stop-color="#008efe"/></linearGradient>
<linearGradient id="g134" gradientUnits="userSpaceOnUse" x1="203.8" y1="146.0" x2="196.9" y2="170.3"><stop offset="0.000" stop-color="#00ffa5"/><stop offset="0.103" stop-color="#00fff0"/><stop offset="0.154" stop-color="#00e8f8"/><stop offset="0.410" stop-color="#0078ff"/><stop offset="0.654" stop-color="#0000ff"/><stop offset="0.859" stop-color="#6800e0"/><stop offset="1.000" stop-color="#7800c1"/></linearGradient>
<linearGradient id="g135" gradientUnits="userSpaceOnUse" x1="293.1" y1="182.3" x2="244.3" y2="168.3"><stop offset="0.000" stop-color="#ffe100"/><stop offset="0.085" stop-color="#ffff00"/><stop offset="0.415" stop-color="#68ff00"/><stop offset="0.623" stop-color="#00ff00"/><stop offset="0.736" stop-color="#00ff80"/><stop offset="0.849" stop-color="#00fff0"/><stop offset="0.887" stop-color="#00e8f8"/><stop offset="1.000" stop-color="#00a5fc"/></linearGradient>
<linearGradient id="g136" gradientUnits="userSpaceOnUse" x1="293.9" y1="172.0" x2="284.4" y2="148.9"><stop offset="0.000" stop-color="#ffe100"/><stop offset="0.129" stop-color="#ffff00"/><stop offset="0.629" stop-color="#68ff00"/><stop offset="0.943" stop-color="#00ff00"/><stop offset="1.000" stop-color="#00ff2b"/></linearGradient>
<linearGradient id="g137" gradientUnits="userSpaceOnUse" x1="297.0" y1="166.6" x2="287.5" y2="125.5"><stop offset="0.000" stop-color="#47ff00"/><stop offset="0.600" stop-color="#00ff00"/><stop offset="1.000" stop-color="#00ff6b"/></linearGradient>
<linearGradient id="g138" gradientUnits="userSpaceOnUse" x1="253.6" y1="140.9" x2="235.3" y2="165.5"><stop offset="0.000" stop-color="#47ff00"/><stop offset="0.273" stop-color="#00ff00"/><stop offset="0.491" stop-color="#00ff80"/><stop offset="0.709" stop-color="#00fff0"/><stop offset="0.782" stop-color="#00e8f8"/><stop offset="1.000" stop-color="#00a5fc"/></linearGradient>
<linearGradient id="g139" gradientUnits="userSpaceOnUse" x1="293.4" y1="176.5" x2="291.9" y2="157.2"><stop offset="0.000" stop-color="#ffc700"/><stop offset="0.395" stop-color="#ffff00"/><stop offset="1.000" stop-color="#8fff00"/></linearGradient>
<linearGradient id="g140" gradientUnits="userSpaceOnUse" x1="338.6" y1="173.6" x2="333.0" y2="145.1"><stop offset="0.000" stop-color="#ffc700"/><stop offset="0.315" stop-color="#ffff00"/><stop offset="0.963" stop-color="#68ff00"/><stop offset="1.000" stop-color="#5fff00"/></linearGradient>
<linearGradient id="g141" gradientUnits="userSpaceOnUse" x1="339.7" y1="156.6" x2="334.4" y2="134.8"><stop offset="0.000" stop-color="#d4ff00"/><stop offset="0.490" stop-color="#68ff00"/><stop offset="0.922" stop-color="#00ff00"/><stop offset="1.000" stop-color="#00ff2b"/></linearGradient>
<linearGradient id="g142" gradientUnits="userSpaceOnUse" x1="296.1" y1="172.0" x2="292.4" y2="145.5"><stop offset="0.000" stop-color="#ffe100"/><stop offset="0.129" stop-color="#ffff00"/><stop offset="0.629" stop-color="#68ff00"/><stop offset="0.943" stop-color="#00ff00"/><stop offset="1.000" stop-color="#00ff2b"/></linearGradient>
<linearGradient id="g143" gradientUnits="userSpaceOnUse" x1="55.1" y1="116.1" x2="80.1" y2="177.0"><stop offset="0.000" stop-color="#32ff00"/><stop offset="0.273" stop-color="#00ff00"/><stop offset="0.584" stop-color="#00ff80"/><stop offset="0.896" stop-color="#00fff0"/><stop offset="1.000" stop-color="#00e8f8"/></linearGradient>
<linearGradient id="g144" gradientUnits="userSpaceOnUse" x1="93.9" y1="75.4" x2="116.7" y2="161.2"><stop offset="0.000" stop-color="#79ff00"/><stop offset="0.074" stop-color="#68ff00"/><stop offset="0.481" stop-color="#00ff00"/><stop offset="0.704" stop-color="#00ff80"/><stop offset="0.926" stop-color="#00fff0"/><stop offset="1.000" stop-color="#00e8f8"/></linearGradient>
<linearGradient id="g145" gradientUnits="userSpaceOnUse" x1="109.7" y1="62.3" x2="120.2" y2="126.1"><stop offset="0.000" stop-color="#8bff00"/><stop offset="0.225" stop-color="#68ff00"/><stop offset="0.845" stop-color="#00ff00"/><stop offset="1.000" stop-color="#00ff3b"/></linearGradient>
<linearGradient id="g146" gradientUnits="userSpaceOnUse" x1="63.8" y1="69.2" x2="91.6" y2="157.4"><stop offset="0.000" stop-color="#8bff00"/><stop offset="0.167" stop-color="#68ff00"/><stop offset="0.625" stop-color="#00ff00"/><stop offset="0.875" stop-color="#00ff80"/><stop offset="1.000" stop-color="#00ffb8"/></linearGradient>
<linearGradient id="g147" gradientUnits="userSpaceOnUse" x1="239.0" y1="113.3" x2="194.7" y2="156.7"><stop offset="0.000" stop-color="#32ff00"/><stop offset="0.247" stop-color="#00ff00"/><stop offset="0.529" stop-color="#00ff80"/><stop offset="0.812" stop-color="#00fff0"/><stop offset="0.906" stop-color="#00e8f8"/><stop offset="1.000" stop-color="#00d2f9"/></linearGradient>
<linearGradient id="g148" gradientUnits="userSpaceOnUse" x1="292.0" y1="92.9" x2="235.4" y2="164.4"><stop offset="0.000" stop-color="#79ff00"/><stop offset="0.111" stop-color="#68ff00"/><stop offset="0.722" stop-color="#00ff00"/><stop offset="1.000" stop-color="#00ff6b"/></linearGradient>
<linearGradient id="g149" gradientUnits="userSpaceOnUse" x1="248.0" y1="67.2" x2="248.0" y2="132.9"><stop offset="0.000" stop-color="#79ff00"/><stop offset="0.127" stop-color="#68ff00"/><stop offset="0.825" stop-color="#00ff00"/><stop offset="1.000" stop-color="#00ff3b"/></linearGradient>
<linearGradient id="g150" gradientUnits="userSpaceOnUse" x1="207.1" y1="73.1" x2="177.7" y2="151.2"><stop offset="0.000" stop-color="#79ff00"/><stop offset="0.069" stop-color="#68ff00"/><stop offset="0.448" stop-color="#00ff00"/><stop offset="0.655" stop-color="#00ff80"/><stop offset="0.862" stop-color="#00fff0"/><stop offset="0.931" stop-color="#00e8f8"/><stop offset="1.000" stop-color="#00d2f9"/></linearGradient>
<linearGradient id="g151" gradientUnits="userSpaceOnUse" x1="57.3" y1="47.7" x2="80.0" y2="121.6"><stop offset="0.000" stop-color="#9aff00"/><stop offset="0.489" stop-color="#68ff00"/><stop offset="1.000" stop-color="#2fff00"/></linearGradient>
<linearGradient id="g152" gradientUnits="userSpaceOnUse" x1="77.2" y1="34.8" x2="131.4" y2="108.4"><stop offset="0.000" stop-color="#9cff00"/><stop offset="0.500" stop-color="#68ff00"/><stop offset="1.000" stop-color="#2fff00"/></linearGradient>
<linearGradient id="g153" gradientUnits="userSpaceOnUse" x1="83.4" y1="7.0" x2="127.4" y2="64.5"><stop offset="0.000" stop-color="#c7ff00"/><stop offset="0.830" stop-color="#68ff00"/><stop offset="1.000" stop-color="#53ff00"/></linearGradient>
<linearGradient id="g154" gradientUnits="userSpaceOnUse" x1="60.7" y1="27.7" x2="89.7" y2="96.5"><stop offset="0.000" stop-color="#c7ff00"/><stop offset="0.733" stop-color="#68ff00"/><stop offset="1.000" stop-color="#42ff00"/></linearGradient>
<linearGradient id="g155" gradientUnits="userSpaceOnUse" x1="203.1" y1="44.8" x2="203.1" y2="104.0"><stop offset="0.000" stop-color="#9aff00"/><stop offset="0.489" stop-color="#68ff00"/><stop offset="1.000" stop-color="#2fff00"/></linearGradient>
<linearGradient id="g156" gradientUnits="userSpaceOnUse" x1="255.5" y1="30.3" x2="245.6" y2="100.3"><stop offset="0.000" stop-color="#c7ff00"/><stop offset="0.647" stop-color="#68ff00"/><stop offset="1.000" stop-color="#2fff00"/></linearGradient>
<linearGradient id="g157" gradientUnits="userSpaceOnUse" x1="254.1" y1="27.9" x2="233.8" y2="87.9"><stop offset="0.000" stop-color="#c7ff00"/><stop offset="0.830" stop-color="#68ff00"/><stop offset="1.000" stop-color="#53ff00"/></linearGradient>
<linearGradient id="g158" gradientUnits="userSpaceOnUse" x1="208.2" y1="21.9" x2="190.4" y2="106.4"><stop offset="0.000" stop-color="#adff00"/><stop offset="0.571" stop-color="#68ff00"/><stop offset="1.000" stop-color="#2fff00"/></linearGradient>
<linearGradient id="g159" gradientUnits="userSpaceOnUse" x1="50.5" y1="28.1" x2="108.7" y2="86.4"><stop offset="0.000" stop-color="#c7ff00"/><stop offset="0.846" stop-color="#68ff00"/><stop offset="1.000" stop-color="#55ff00"/></linearGradient>
<linearGradient id="g160" gradientUnits="userSpaceOnUse" x1="211.4" y1="13.7" x2="199.4" y2="60.4"><stop offset="0.000" stop-color="#d8ff00"/><stop offset="1.000" stop-color="#68ff00"/></linearGradient>
<linearGradient id="g161" gradientUnits="userSpaceOnUse" x1="212.5" y1="-13.3" x2="271.6" y2="85.6"><stop offset="0.000" stop-color="#d8ff00"/><stop offset="1.000" stop-color="#82ff00"/></linearGradient>
<linearGradient id="g162" gradientUnits="userSpaceOnUse" x1="229.4" y1="-11.9" x2="254.7" y2="30.5"><stop offset="0.000" stop-color="#ffee00"/><stop offset="0.167" stop-color="#ffff00"/><stop offset="1.000" stop-color="#93ff00"/></linearGradient>
<linearGradient id="g163" gradientUnits="userSpaceOnUse" x1="202.2" y1="10.3" x2="206.6" y2="54.6"><stop offset="0.000" stop-color="#ffee00"/><stop offset="0.125" stop-color="#ffff00"/><stop offset="1.000" stop-color="#68ff00"/></linearGradient>
<linearGradient id="g164" gradientUnits="userSpaceOnUse" x1="234.6" y1="43.5" x2="304.6" y2="57.0"><stop offset="0.000" stop-color="#c7ff00"/><stop offset="0.524" stop-color="#68ff00"/><stop offset="1.000" stop-color="#09ff00"/></linearGradient>
<linearGradient id="g165" gradientUnits="userSpaceOnUse" x1="256.0" y1="41.5" x2="305.9" y2="47.7"><stop offset="0.000" stop-color="#95ff00"/><stop offset="0.344" stop-color="#68ff00"/><stop offset="1.000" stop-color="#09ff00"/></linearGradient>
<linearGradient id="g166" gradientUnits="userSpaceOnUse" x1="236.9" y1="9.2" x2="305.3" y2="21.4"><stop offset="0.000" stop-color="#d8ff00"/><stop offset="0.591" stop-color="#68ff00"/><stop offset="1.000" stop-color="#13ff00"/></linearGradient>
<linearGradient id="g167" gradientUnits="userSpaceOnUse" x1="235.4" y1="16.1" x2="284.8" y2="28.3"><stop offset="0.000" stop-color="#d8ff00"/><stop offset="0.825" stop-color="#68ff00"/><stop offset="1.000" stop-color="#4eff00"/></linearGradient>
<linearGradient id="g168" gradientUnits="userSpaceOnUse" x1="344.5" y1="56.8" x2="284.2" y2="44.2"><stop offset="0.000" stop-color="#fffc00"/><stop offset="0.018" stop-color="#ffff00"/><stop offset="0.643" stop-color="#68ff00"/><stop offset="1.000" stop-color="#09ff00"/></linearGradient>
<linearGradient id="g169" gradientUnits="userSpaceOnUse" x1="345.7" y1="50.9" x2="307.5" y2="27.6"><stop offset="0.000" stop-color="#fffc00"/><stop offset="0.026" stop-color="#ffff00"/><stop offset="0.935" stop-color="#68ff00"/><stop offset="1.000" stop-color="#5cff00"/></linearGradient>
<linearGradient id="g170" gradientUnits="userSpaceOnUse" x1="350.3" y1="23.2" x2="284.5" y2="2.1"><stop offset="0.000" stop-color="#d0ff00"/><stop offset="0.571" stop-color="#68ff00"/><stop offset="1.000" stop-color="#13ff00"/></linearGradient>
<linearGradient id="g171" gradientUnits="userSpaceOnUse" x1="324.5" y1="16.0" x2="279.4" y2="20.6"><stop offset="0.000" stop-color="#a2ff00"/><stop offset="0.403" stop-color="#68ff00"/><stop offset="1.000" stop-color="#09ff00"/></linearGradient>
</defs>
<rect x="0" y="0" width="550" height="423" fill="#ffffff"/>
<g clip-path="url(#clip)" stroke-width="1.5" stroke-linejoin="round">
<polygon points="292.9,83.9 292.9,77.9 299.5,83.9" fill="url(#g0)" stroke="url(#g0)"/>
<polygon points="292.9,77.9 292.9,60.2 319.4,83.9" fill="url(#g1)" stroke="url(#g1)"/>
<polygon points="292.9,77.9 319.4,83.9 299.5,83.9" fill="url(#g2)" stroke="url(#g2)"/>
<polygon points="292.9,60.2 292.9,51.0 329.7,83.9" fill="url(#g3)" stroke="url(#g3)"/>
<polygon points="292.9,60.2 329.7,83.9 319.4,83.9" fill="url(#g4)" stroke="url(#g4)"/>
<polygon points="292.9,51.0 292.9,46.0 329.7,83.9" fill="url(#g5)" stroke="url(#g5)"/>
<polygon points="292.9,46.0 337.7,83.9 329.7,83.9" fill="url(#g6)" stroke="url(#g6)"/>
<polygon points="292.9,46.0 337.7,46.0 337.7,83.9" fill="url(#g7)" stroke="url(#g7)"/>
<polygon points="292.9,83.9 299.5,83.9 292.9,94.7" fill="url(#g8)" stroke="url(#g8)"/>
<polygon points="299.5,83.9 319.4,83.9 292.9,127.2" fill="url(#g9)" stroke="url(#g9)"/>
<polygon points="299.5,83.9 292.9,127.2 292.9,94.7" fill="url(#g10)" stroke="url(#g10)"/>
<polygon points="319.4,83.9 329.7,83.9 292.9,144.0" fill="url(#g11)" stroke="url(#g11)"/>
<polygon points="319.4,83.9 292.9,144.0 292.9,127.2" fill="url(#g12)" stroke="url(#g12)"/>
<polygon points="329.7,83.9 337.7,83.9 292.9,144.0" fill="url(#g13)" stroke="url(#g13)"/>
<polygon points="337.7,83.9 292.9,148.5 292.9,144.0" fill="url(#g14)" stroke="url(#g14)"/>
<polygon points="337.7,83.9 337.7,148.5 292.9,148.5" fill="url(#g15)" stroke="url(#g15)"/>
<polygon points="292.9,83.9 292.9,94.7 290.7,83.9" fill="url(#g16)" stroke="url(#g16)"/>
<polygon points="292.9,94.7 292.9,127.2 284.1,83.9" fill="url(#g17)" stroke="url(#g17)"/>
<polygon points="292.9,94.7 284.1,83.9 290.7,83.9" fill="url(#g18)" stroke="url(#g18)"/>
<polygon points="292.9,127.2 292.9,144.0 280.7,83.9" fill="url(#g19)" stroke="url(#g19)"/>
<polygon points="292.9,127.2 280.7,83.9 284.1,83.9" fill="url(#g20)" stroke="url(#g20)"/>
<polygon points="292.9,144.0 292.9,148.5 280.7,83.9" fill="url(#g21)" stroke="url(#g21)"/>
<polygon points="292.9,148.5 248.0,83.9 280.7,83.9" fill="url(#g22)" stroke="url(#g22)"/>
<polygon points="292.9,148.5 248.0,148.5 248.0,83.9" fill="url(#g23)" stroke="url(#g23)"/>
<polygon points="292.9,83.9 290.7,83.9 292.9,77.9" fill="url(#g24)" stroke="url(#g24)"/>
<polygon points="290.7,83.9 284.1,83.9 292.9,60.2" fill="url(#g25)" stroke="url(#g25)"/>
<polygon points="290.7,83.9 292.9,60.2 292.9,77.9" fill="url(#g26)" stroke="url(#g26)"/>
<polygon points="284.1,83.9 280.7,83.9 292.9,51.0" fill="url(#g27)" stroke="url(#g27)"/>
<polygon points="284.1,83.9 292.9,51.0 292.9,60.2" fill="url(#g28)" stroke="url(#g28)"/>
<polygon points="280.7,83.9 248.0,83.9 292.9,51.0" fill="url(#g29)" stroke="url(#g29)"/>
<polygon points="248.0,83.9 292.9,46.0 292.9,51.0" fill="url(#g30)" stroke="url(#g30)"/>
<polygon points="248.0,83.9 248.0,46.0 292.9,46.0" fill="url(#g31)" stroke="url(#g31)"/>
<polygon points="113.3,148.5 158.2,148.5 158.2,69.1" fill="url(#g32)" stroke="url(#g32)"/>
<polygon points="158.2,148.5 203.1,148.5 158.2,69.1" fill="url(#g33)" stroke="url(#g33)"/>
<polygon points="113.3,148.5 158.2,69.1 113.3,83.9" fill="url(#g34)" stroke="url(#g34)"/>
<polygon points="203.1,148.5 203.1,83.9 158.2,69.1" fill="url(#g35)" stroke="url(#g35)"/>
<polygon points="113.3,83.9 158.2,69.1 146.5,46.0" fill="url(#g36)" stroke="url(#g36)"/>
<polygon points="113.3,83.9 146.5,46.0 113.3,46.0" fill="url(#g37)" stroke="url(#g37)"/>
<polygon points="158.2,69.1 158.2,46.0 146.5,46.0" fill="url(#g38)" stroke="url(#g38)"/>
<polygon points="158.2,69.1 169.9,46.0 158.2,46.0" fill="url(#g39)" stroke="url(#g39)"/>
<polygon points="203.1,83.9 169.9,46.0 158.2,69.1" fill="url(#g40)" stroke="url(#g40)"/>
<polygon points="203.1,83.9 203.1,46.0 169.9,46.0" fill="url(#g41)" stroke="url(#g41)"/>
<polygon points="158.2,46.0 158.2,24.6 146.5,46.0" fill="url(#g42)" stroke="url(#g42)"/>
<polygon points="146.5,46.0 158.2,24.6 158.2,19.2" fill="url(#g43)" stroke="url(#g43)"/>
<polygon points="146.5,46.0 158.2,19.2 113.3,19.2" fill="url(#g44)" stroke="url(#g44)"/>
<polygon points="146.5,46.0 113.3,19.2 113.3,46.0" fill="url(#g45)" stroke="url(#g45)"/>
<polygon points="158.2,46.0 169.9,46.0 158.2,24.6" fill="url(#g46)" stroke="url(#g46)"/>
<polygon points="169.9,46.0 158.2,19.2 158.2,24.6" fill="url(#g47)" stroke="url(#g47)"/>
<polygon points="169.9,46.0 203.1,19.2 158.2,19.2" fill="url(#g48)" stroke="url(#g48)"/>
<polygon points="169.9,46.0 203.1,46.0 203.1,19.2" fill="url(#g49)" stroke="url(#g49)"/>
<polygon points="248.0,363.3 248.0,298.6 203.1,298.6" fill="url(#g50)" stroke="url(#g50)"/>
<polygon points="248.0,363.3 292.9,363.3 270.4,331.0" fill="url(#g51)" stroke="url(#g51)"/>
<polygon points="292.9,363.3 292.9,298.6 270.4,331.0" fill="url(#g52)" stroke="url(#g52)"/>
<polygon points="292.9,298.6 248.0,298.6 270.4,331.0" fill="url(#g53)" stroke="url(#g53)"/>
<polygon points="248.0,298.6 248.0,363.3 270.4,331.0" fill="url(#g54)" stroke="url(#g54)"/>
<polygon points="292.9,363.3 337.7,363.3 337.7,298.6" fill="url(#g55)" stroke="url(#g55)"/>
<polygon points="292.9,363.3 337.7,298.6 292.9,298.6" fill="url(#g56)" stroke="url(#g56)"/>
<polygon points="337.7,363.3 382.6,363.3 337.7,298.6" fill="url(#g57)" stroke="url(#g57)"/>
<polygon points="382.6,363.3 382.6,298.6 337.7,298.6" fill="url(#g58)" stroke="url(#g58)"/>
<polygon points="382.6,363.3 427.5,363.3 405.1,331.0" fill="url(#g59)" stroke="url(#g59)"/>
<polygon points="427.5,363.3 427.5,298.6 405.1,331.0" fill="url(#g60)" stroke="url(#g60)"/>
<polygon points="427.5,298.6 382.6,298.6 405.1,331.0" fill="url(#g61)" stroke="url(#g61)"/>
<polygon points="382.6,298.6 382.6,363.3 405.1,331.0" fill="url(#g62)" stroke="url(#g62)"/>
<polygon points="203.1,298.6 248.0,298.6 225.5,266.3" fill="url(#g63)" stroke="url(#g63)"/>
<polygon points="248.0,298.6 248.0,234.0 225.5,266.3" fill="url(#g64)" stroke="url(#g64)"/>
<polygon points="248.0,234.0 203.1,234.0 225.5,266.3" fill="url(#g65)" stroke="url(#g65)"/>
<polygon points="203.1,234.0 203.1,298.6 225.5,266.3" fill="url(#g66)" stroke="url(#g66)"/>
<polygon points="248.0,298.6 292.9,298.6 270.4,266.3" fill="url(#g67)" stroke="url(#g67)"/>
<polygon points="292.9,298.6 292.9,234.0 270.4,266.3" fill="url(#g68)" stroke="url(#g68)"/>
<polygon points="292.9,234.0 248.0,234.0 270.4,266.3" fill="url(#g69)" stroke="url(#g69)"/>
<polygon points="248.0,234.0 248.0,298.6 270.4,266.3" fill="url(#g70)" stroke="url(#g70)"/>
<polygon points="292.9,298.6 337.7,298.6 315.3,266.3" fill="url(#g71)" stroke="url(#g71)"/>
<polygon points="337.7,298.6 337.7,234.0 315.3,266.3" fill="url(#g72)" stroke="url(#g72)"/>
<polygon points="337.7,234.0 292.9,234.0 315.3,266.3" fill="url(#g73)" stroke="url(#g73)"/>
<polygon points="292.9,234.0 292.9,298.6 315.3,266.3" fill="url(#g74)" stroke="url(#g74)"/>
<polygon points="337.7,298.6 382.6,298.6 360.2,266.3" fill="url(#g75)" stroke="url(#g75)"/>
<polygon points="382.6,298.6 382.6,234.0 360.2,266.3" fill="url(#g76)" stroke="url(#g76)"/>
<polygon points="382.6,234.0 337.7,234.0 360.2,266.3" fill="url(#g77)" stroke="url(#g77)"/>
<polygon points="337.7,234.0 337.7,298.6 360.2,266.3" fill="url(#g78)" stroke="url(#g78)"/>
<polygon points="382.6,298.6 427.5,298.6 405.1,266.3" fill="url(#g79)" stroke="url(#g79)"/>
<polygon points="427.5,298.6 427.5,234.0 405.1,266.3" fill="url(#g80)" stroke="url(#g80)"/>
<polygon points="427.5,234.0 382.6,234.0 405.1,266.3" fill="url(#g81)" stroke="url(#g81)"/>
<polygon points="382.6,234.0 382.6,298.6 405.1,266.3" fill="url(#g82)" stroke="url(#g82)"/>
<polygon points="203.1,234.0 203.1,196.2 158.2,196.2" fill="url(#g83)" stroke="url(#g83)"/>
<polygon points="203.1,234.0 248.0,234.0 248.0,196.2" fill="url(#g84)" stroke="url(#g84)"/>
<polygon points="203.1,234.0 248.0,196.2 203.1,196.2" fill="url(#g85)" stroke="url(#g85)"/>
<polygon points="248.0,234.0 292.9,234.0 292.9,196.2" fill="url(#g86)" stroke="url(#g86)"/>
<polygon points="248.0,234.0 292.9,196.2 248.0,196.2" fill="url(#g87)" stroke="url(#g87)"/>
<polygon points="292.9,234.0 337.7,234.0 315.3,215.1" fill="url(#g88)" stroke="url(#g88)"/>
<polygon points="337.7,234.0 337.7,196.2 315.3,215.1" fill="url(#g89)" stroke="url(#g89)"/>
<polygon points="337.7,196.2 292.9,196.2 315.3,215.1" fill="url(#g90)" stroke="url(#g90)"/>
<polygon points="292.9,196.2 292.9,234.0 315.3,215.1" fill="url(#g91)" stroke="url(#g91)"/>
<polygon points="337.7,234.0 382.6,234.0 360.2,215.1" fill="url(#g92)" stroke="url(#g92)"/>
<polygon points="382.6,234.0 382.6,196.2 360.2,215.1" fill="url(#g93)" stroke="url(#g93)"/>
<polygon points="382.6,196.2 337.7,196.2 360.2,215.1" fill="url(#g94)" stroke="url(#g94)"/>
<polygon points="337.7,196.2 337.7,234.0 360.2,215.1" fill="url(#g95)" stroke="url(#g95)"/>
<polygon points="382.6,234.0 427.5,234.0 405.1,215.1" fill="url(#g96)" stroke="url(#g96)"/>
<polygon points="427.5,234.0 427.5,196.2 405.1,215.1" fill="url(#g97)" stroke="url(#g97)"/>
<polygon points="427.5,196.2 382.6,196.2 405.1,215.1" fill="url(#g98)" stroke="url(#g98)"/>
<polygon points="382.6,196.2 382.6,234.0 405.1,215.1" fill="url(#g99)" stroke="url(#g99)"/>
<polygon points="68.4,196.2 113.3,196.2 90.8,182.7" fill="url(#g100)" stroke="url(#g100)"/>
<polygon points="113.3,196.2 113.3,169.3 90.8,182.7" fill="url(#g101)" stroke="url(#g101)"/>
<polygon points="113.3,169.3 68.4,169.3 90.8,182.7" fill="url(#g102)" stroke="url(#g102)"/>
<polygon points="68.4,169.3 68.4,196.2 90.8,182.7" fill="url(#g103)" stroke="url(#g103)"/>
<polygon points="113.3,196.2 158.2,196.2 135.7,182.7" fill="url(#g104)" stroke="url(#g104)"/>
<polygon points="158.2,196.2 158.2,169.3 135.7,182.7" fill="url(#g105)" stroke="url(#g105)"/>
<polygon points="158.2,169.3 113.3,169.3 135.7,182.7" fill="url(#g106)" stroke="url(#g106)"/>
<polygon points="113.3,169.3 113.3,196.2 135.7,182.7" fill="url(#g107)" stroke="url(#g107)"/>
<polygon points="158.2,196.2 203.1,196.2 203.1,169.3" fill="url(#g108)" stroke="url(#g108)"/>
<polygon points="158.2,196.2 203.1,169.3 158.2,169.3" fill="url(#g109)" stroke="url(#g109)"/>
<polygon points="203.1,196.2 248.0,196.2 248.0,169.3" fill="url(#g110)" stroke="url(#g110)"/>
<polygon points="203.1,196.2 248.0,169.3 203.1,169.3" fill="url(#g111)" stroke="url(#g111)"/>
<polygon points="248.0,196.2 292.9,196.2 292.9,169.3" fill="url(#g112)" stroke="url(#g112)"/>
<polygon points="248.0,196.2 292.9,169.3 248.0,169.3" fill="url(#g113)" stroke="url(#g113)"/>
<polygon points="292.9,196.2 337.7,196.2 315.3,182.7" fill="url(#g114)" stroke="url(#g114)"/>
<polygon points="337.7,196.2 337.7,169.3 315.3,182.7" fill="url(#g115)" stroke="url(#g115)"/>
<polygon points="337.7,169.3 292.9,169.3 315.3,182.7" fill="url(#g116)" stroke="url(#g116)"/>
<polygon points="292.9,169.3 292.9,196.2 315.3,182.7" fill="url(#g117)" stroke="url(#g117)"/>
<polygon points="337.7,196.2 382.6,196.2 337.7,169.3" fill="url(#g118)" stroke="url(#g118)"/>
<polygon points="68.4,169.3 113.3,169.3 90.8,158.9" fill="url(#g119)" stroke="url(#g119)"/>
<polygon points="113.3,169.3 113.3,148.5 90.8,158.9" fill="url(#g120)" stroke="url(#g120)"/>
<polygon points="113.3,148.5 68.4,148.5 90.8,158.9" fill="url(#g121)" stroke="url(#g121)"/>
<polygon points="68.4,148.5 68.4,169.3 90.8,158.9" fill="url(#g122)" stroke="url(#g122)"/>
<polygon points="113.3,169.3 158.2,169.3 135.7,158.9" fill="url(#g123)" stroke="url(#g123)"/>
<polygon points="158.2,169.3 158.2,148.5 135.7,158.9" fill="url(#g124)" stroke="url(#g124)"/>
<polygon points="158.2,148.5 113.3,148.5 135.7,158.9" fill="url(#g125)" stroke="url(#g125)"/>
<polygon points="113.3,148.5 113.3,169.3 135.7,158.9" fill="url(#g126)" stroke="url(#g126)"/>
<polygon points="158.2,169.3 203.1,169.3 180.6,158.9" fill="url(#g127)" stroke="url(#g127)"/>
<polygon points="203.1,169.3 203.1,148.5 180.6,158.9" fill="url(#g128)" stroke="url(#g128)"/>
<polygon points="203.1,148.5 158.2,148.5 180.6,158.9" fill="url(#g129)" stroke="url(#g129)"/>
<polygon points="158.2,148.5 158.2,169.3 180.6,158.9" fill="url(#g130)" stroke="url(#g130)"/>
<polygon points="203.1,169.3 248.0,169.3 225.5,158.9" fill="url(#g131)" stroke="url(#g131)"/>
<polygon points="248.0,169.3 248.0,148.5 225.5,158.9" fill="url(#g132)" stroke="url(#g132)"/>
<polygon points="248.0,148.5 203.1,148.5 225.5,158.9" fill="url(#g133)" stroke="url(#g133)"/>
<polygon points="203.1,148.5 203.1,169.3 225.5,158.9" fill="url(#g134)" stroke="url(#g134)"/>
<polygon points="248.0,169.3 292.9,169.3 270.4,158.9" fill="url(#g135)" stroke="url(#g135)"/>
<polygon points="292.9,169.3 292.9,148.5 270.4,158.9" fill="url(#g136)" stroke="url(#g136)"/>
<polygon points="292.9,148.5 248.0,148.5 270.4,158.9" fill="url(#g137)" stroke="url(#g137)"/>
<polygon points="248.0,148.5 248.0,169.3 270.4,158.9" fill="url(#g138)" stroke="url(#g138)"/>
<polygon points="292.9,169.3 337.7,169.3 315.3,158.9" fill="url(#g139)" stroke="url(#g139)"/>
<polygon points="337.7,169.3 337.7,148.5 315.3,158.9" fill="url(#g140)" stroke="url(#g140)"/>
<polygon points="337.7,148.5 292.9,148.5 315.3,158.9" fill="url(#g141)" stroke="url(#g141)"/>
<polygon points="292.9,148.5 292.9,169.3 315.3,158.9" fill="url(#g142)" stroke="url(#g142)"/>
<polygon points="68.4,148.5 113.3,148.5 90.8,116.2" fill="url(#g143)" stroke="url(#g143)"/>
<polygon points="113.3,148.5 113.3,83.9 90.8,116.2" fill="url(#g144)" stroke="url(#g144)"/>
<polygon points="113.3,83.9 68.4,83.9 90.8,116.2" fill="url(#g145)" stroke="url(#g145)"/>
<polygon points="68.4,83.9 68.4,148.5 90.8,116.2" fill="url(#g146)" stroke="url(#g146)"/>
<polygon points="203.1,148.5 248.0,148.5 225.5,116.2" fill="url(#g147)" stroke="url(#g147)"/>
<polygon points="248.0,148.5 248.0,83.9 225.5,116.2" fill="url(#g148)" stroke="url(#g148)"/>
<polygon points="248.0,83.9 203.1,83.9 225.5,116.2" fill="url(#g149)" stroke="url(#g149)"/>
<polygon points="203.1,83.9 203.1,148.5 225.5,116.2" fill="url(#g150)" stroke="url(#g150)"/>
<polygon points="68.4,83.9 113.3,83.9 90.8,64.9" fill="url(#g151)" stroke="url(#g151)"/>
<polygon points="113.3,83.9 113.3,46.0 90.8,64.9" fill="url(#g152)" stroke="url(#g152)"/>
<polygon points="113.3,46.0 68.4,46.0 90.8,64.9" fill="url(#g153)" stroke="url(#g153)"/>
<polygon points="68.4,46.0 68.4,83.9 90.8,64.9" fill="url(#g154)" stroke="url(#g154)"/>
<polygon points="203.1,83.9 248.0,83.9 225.5,64.9" fill="url(#g155)" stroke="url(#g155)"/>
<polygon points="248.0,83.9 248.0,46.0 225.5,64.9" fill="url(#g156)" stroke="url(#g156)"/>
<polygon points="248.0,46.0 203.1,46.0 225.5,64.9" fill="url(#g157)" stroke="url(#g157)"/>
<polygon points="203.1,46.0 203.1,83.9 225.5,64.9" fill="url(#g158)" stroke="url(#g158)"/>
<polygon points="68.4,46.0 113.3,46.0 113.3,19.2" fill="url(#g159)" stroke="url(#g159)"/>
<polygon points="203.1,46.0 248.0,46.0 225.5,32.6" fill="url(#g160)" stroke="url(#g160)"/>
<polygon points="248.0,46.0 248.0,19.2 225.5,32.6" fill="url(#g161)" stroke="url(#g161)"/>
<polygon points="248.0,19.2 203.1,19.2 225.5,32.6" fill="url(#g162)" stroke="url(#g162)"/>
<polygon points="203.1,19.2 203.1,46.0 225.5,32.6" fill="url(#g163)" stroke="url(#g163)"/>
<polygon points="248.0,46.0 292.9,46.0 270.4,32.6" fill="url(#g164)" stroke="url(#g164)"/>
<polygon points="292.9,46.0 292.9,19.2 270.4,32.6" fill="url(#g165)" stroke="url(#g165)"/>
<polygon points="292.9,19.2 248.0,19.2 270.4,32.6" fill="url(#g166)" stroke="url(#g166)"/>
<polygon points="248.0,19.2 248.0,46.0 270.4,32.6" fill="url(#g167)" stroke="url(#g167)"/>
<polygon points="292.9,46.0 337.7,46.0 315.3,32.6" fill="url(#g168)" stroke="url(#g168)"/>
<polygon points="337.7,46.0 337.7,19.2 315.3,32.6" fill="url(#g169)" stroke="url(#g169)"/>
<polygon points="337.7,19.2 292.9,19.2 315.3,32.6" fill="url(#g170)" stroke="url(#g170)"/>
<polygon points="292.9,19.2 292.9,46.0 315.3,32.6" fill="url(#g171)" stroke="url(#g171)"/>
</g>
<circle cx="247.8" cy="298.2" r="15" fill="url(#spot2)"/>
<circle cx="158.4" cy="170.5" r="11" fill="url(#spot6)"/>
<!-- axes frame -->
<g stroke="#111" stroke-width="1.3" fill="none">
<rect x="68.4" y="19.2" width="359.3" height="344.1"/>
<line x1="62.2" y1="363.3" x2="68.4" y2="363.3"/>
<line x1="62.2" y1="298.6" x2="68.4" y2="298.6"/>
<line x1="62.2" y1="234.0" x2="68.4" y2="234.0"/>
<line x1="62.2" y1="196.2" x2="68.4" y2="196.2"/>
<line x1="62.2" y1="169.3" x2="68.4" y2="169.3"/>
<line x1="62.2" y1="148.5" x2="68.4" y2="148.5"/>
<line x1="62.2" y1="83.9" x2="68.4" y2="83.9"/>
<line x1="62.2" y1="46.0" x2="68.4" y2="46.0"/>
<line x1="62.2" y1="19.2" x2="68.4" y2="19.2"/>
<line x1="68.4" y1="363.3" x2="68.4" y2="369.8"/>
<line x1="113.3" y1="363.3" x2="113.3" y2="369.8"/>
<line x1="158.2" y1="363.3" x2="158.2" y2="369.8"/>
<line x1="203.1" y1="363.3" x2="203.1" y2="369.8"/>
<line x1="248.0" y1="363.3" x2="248.0" y2="369.8"/>
<line x1="292.9" y1="363.3" x2="292.9" y2="369.8"/>
<line x1="337.7" y1="363.3" x2="337.7" y2="369.8"/>
<line x1="382.6" y1="363.3" x2="382.6" y2="369.8"/>
<line x1="427.5" y1="363.3" x2="427.5" y2="369.8"/>
</g>
<g class="tick">
<text x="57" y="368.3" text-anchor="end">0.1</text>
<text x="57" y="303.6" text-anchor="end">0.2</text>
<text x="57" y="239.0" text-anchor="end">0.4</text>
<text x="57" y="201.2" text-anchor="end">0.6</text>
<text x="57" y="174.3" text-anchor="end">0.8</text>
<text x="57" y="153.5" text-anchor="end">1</text>
<text x="57" y="88.9" text-anchor="end">2</text>
<text x="57" y="51.0" text-anchor="end">3</text>
<text x="57" y="24.2" text-anchor="end">4</text>
<text x="68.4" y="386.2" text-anchor="middle">30</text>
<text x="113.3" y="386.2" text-anchor="middle">50</text>
<text x="158.2" y="386.2" text-anchor="middle">75</text>
<text x="203.1" y="386.2" text-anchor="middle">100</text>
<text x="248.0" y="386.2" text-anchor="middle">125</text>
<text x="292.9" y="386.2" text-anchor="middle">150</text>
<text x="337.7" y="386.2" text-anchor="middle">175</text>
<text x="382.6" y="386.2" text-anchor="middle">200</text>
<text x="427.5" y="386.2" text-anchor="middle">225</text>
</g>
<text class="ser" font-size="22" transform="translate(27.3,181.3) rotate(-90)" text-anchor="middle" textLength="213.5" lengthAdjust="spacing">Ratio (wt % rGO/ZnO)</text>
<text class="ser" font-size="21.5" x="222.5" y="410">T<tspan dx="-0.6"> (°C</tspan><tspan dx="-1.4"> )</tspan></text>
<text class="big" x="199" y="89.8">p-type</text>
<text class="big" x="307.3" y="256">n-type</text>

<!-- dashed boundary line -->
<polyline points="200,230 292.6,167.4 338,167.4" fill="none" stroke="#303030" stroke-width="1.4" stroke-dasharray="10 5.2"/>

<!-- arrows -->
<g stroke="#000" stroke-width="1.5" fill="none">
<line x1="247.8" y1="353" x2="247.8" y2="322"/>
<line x1="247.8" y1="282.3" x2="247.8" y2="190"/>
<line x1="232.7" y1="171.3" x2="176" y2="171.3"/>
<line x1="158.6" y1="157" x2="158.6" y2="34"/>
<line x1="265" y1="298.8" x2="405" y2="298.8"/>
<line x1="169" y1="297.4" x2="225" y2="297.4" stroke-dasharray="10 5.2 10 5.2 100"/>
<line x1="158.6" y1="284" x2="158.6" y2="190" stroke-dasharray="10 4.6" stroke-dashoffset="2.3"/>
</g>
<g fill="#000" stroke="none">
<polygon points="247.8,315 244.8,326.5 250.8,326.5"/>
<polygon points="247.8,181.8 244.8,193.3 250.8,193.3"/>
<polygon points="168.3,171.3 180.4,168.2 180.4,174.4"/>
<polygon points="158.6,180.4 155.6,191.8 161.6,191.8"/>
<polygon points="159,26.3 156,38.3 162,38.3"/>
<polygon points="412.3,298.8 401.2,295.8 401.2,301.8"/>
<polygon points="232.3,297.4 221.3,294.4 221.3,300.4"/>
</g>
<!-- dotted circles -->
<g fill="none" stroke-width="2.6" stroke-linecap="round" stroke-dasharray="0.7 4.405">
<circle cx="247.8" cy="360" r="6.5" stroke="#000"/>
<circle cx="247.8" cy="297.5" r="6.5" stroke="#fff"/>
<circle cx="246.6" cy="171.5" r="6.5" stroke="#fff"/>
<circle cx="158.6" cy="297.3" r="6.5" stroke="#000"/>
<circle cx="426.2" cy="299" r="6.5" stroke="#000"/>
<circle cx="158.4" cy="170.5" r="6.5" stroke="#fff"/>
<circle cx="159.1" cy="18.7" r="6.5" stroke="#000"/>
</g>
<g class="num">
<text x="256" y="353.2" fill="#000">1</text>
<text x="257.2" y="290.5" fill="#fff">2</text>
<text x="257" y="169" fill="#000">3</text>
<text x="142" y="288.5" fill="#000">4</text>
<text x="407.5" y="290" fill="#000">5</text>
<text x="137.5" y="169.5" fill="#fff">6</text>
<text x="141.5" y="43.5" fill="#000">7</text>
</g>

<!-- colour bar -->
<rect x="474" y="18.6" width="16" height="178" fill="url(#cbg)" stroke="#1a1a1a" stroke-width="1.2"/>
<rect x="474.5" y="19" width="15" height="1.4" fill="#c8c0c0"/>
<g stroke="#1a1a1a" stroke-width="1.4">
<line x1="490.5" y1="20" x2="497" y2="20"/>
<line x1="490.5" y1="37.5" x2="494" y2="37.5"/>
<line x1="490.5" y1="55" x2="497" y2="55"/>
<line x1="490.5" y1="72.5" x2="494" y2="72.5"/>
<line x1="490.5" y1="90" x2="497" y2="90"/>
<line x1="490.5" y1="107.5" x2="494" y2="107.5"/>
<line x1="490.5" y1="125" x2="497" y2="125"/>
<line x1="490.5" y1="142.5" x2="494" y2="142.5"/>
<line x1="490.5" y1="160" x2="497" y2="160"/>
<line x1="490.5" y1="177.5" x2="494" y2="177.5"/>
<line x1="490.5" y1="195" x2="497" y2="195"/>
</g>
<g class="cbl">
<text x="502" y="24.5">56.00</text>
<text x="502" y="59.5">32.80</text>
<text x="505" y="94.5">9.00</text>
<text x="501" y="129.5">−0.14</text>
<text x="501" y="164.5">−0.37</text>
<text x="501" y="199.5">−0.60</text>
</g>
<text class="cbt" transform="translate(456.5,101.3) rotate(-90)" text-anchor="middle" textLength="116" lengthAdjust="spacing">Sensitivity (Rg/Ra−1)</text>
</svg>
</body>
</html>
